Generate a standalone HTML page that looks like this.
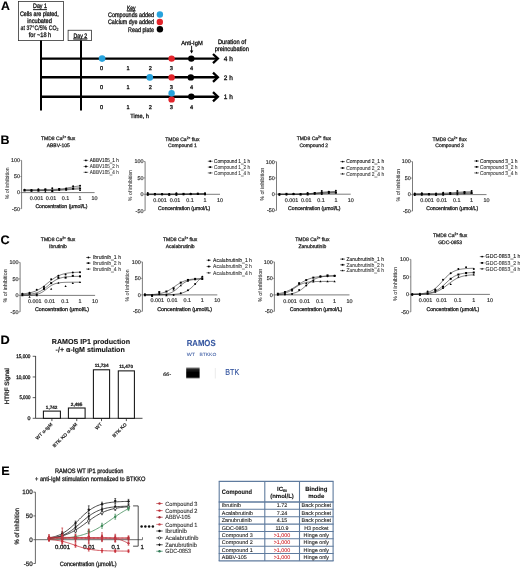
<!DOCTYPE html>
<html><head><meta charset="utf-8"><style>
html,body{margin:0;padding:0;background:#fff;}
svg{display:block;font-family:'Liberation Sans', Arial, sans-serif;text-rendering:geometricPrecision;}
</style></head><body>
<svg width="520" height="568" viewBox="0 0 520 568">
<rect width="520" height="568" fill="#fff"/>
<text x="0.9" y="9.7" font-size="12.3" font-weight="bold" textLength="8.9" lengthAdjust="spacingAndGlyphs" stroke="#000" stroke-width="0.15">A</text>
<rect x="18.5" y="1.5" width="45" height="39.1" fill="none" stroke="#333" stroke-width="0.8"/>
<text x="33.10" y="8.33" font-size="6.5" stroke="#1a1a1a" stroke-width="0.3" textLength="13.80" lengthAdjust="spacingAndGlyphs" text-decoration="underline">Day 1</text>
<text x="20.00" y="15.58" font-size="6.5" stroke="#1a1a1a" stroke-width="0.3" textLength="38.75" lengthAdjust="spacingAndGlyphs" >Cells are plated,</text>
<text x="27.25" y="22.68" font-size="6.5" stroke="#1a1a1a" stroke-width="0.3" textLength="24.65" lengthAdjust="spacingAndGlyphs" >incubated</text>
<text x="20.6" y="30.08" font-size="6.5" stroke="#1a1a1a" stroke-width="0.22" textLength="38" lengthAdjust="spacingAndGlyphs">at 37°C/5% CO<tspan font-size="4.4" dy="1.2">2</tspan></text>
<text x="28.75" y="37.08" font-size="6.5" stroke="#1a1a1a" stroke-width="0.3" textLength="22.50" lengthAdjust="spacingAndGlyphs" >for ~18 h</text>
<rect x="68.1" y="30.25" width="23.4" height="10.35" fill="none" stroke="#333" stroke-width="0.8"/>
<text x="73.50" y="37.68" font-size="6.5" stroke="#1a1a1a" stroke-width="0.3" textLength="13.75" lengthAdjust="spacingAndGlyphs" text-decoration="underline">Day 2</text>
<text x="126.90" y="9.62" font-size="6.3" stroke="#1a1a1a" stroke-width="0.3" textLength="8.70" lengthAdjust="spacingAndGlyphs" text-decoration="underline">Key</text>
<text x="108.10" y="16.91" font-size="6.6" stroke="#1a1a1a" stroke-width="0.3" textLength="45.90" lengthAdjust="spacingAndGlyphs" >Compounds added</text>
<text x="107.90" y="24.41" font-size="6.6" stroke="#1a1a1a" stroke-width="0.3" textLength="46.10" lengthAdjust="spacingAndGlyphs" >Calcium dye added</text>
<text x="128.10" y="31.61" font-size="6.6" stroke="#1a1a1a" stroke-width="0.3" textLength="25.90" lengthAdjust="spacingAndGlyphs" >Read plate</text>
<circle cx="159.90" cy="14.50" r="3.2" fill="#27a3dd"/>
<circle cx="159.80" cy="22.00" r="3.2" fill="#e3242b"/>
<circle cx="159.90" cy="29.20" r="3.2" fill="#000"/>
<line x1="41.00" y1="40.60" x2="41.00" y2="110.60" stroke="#000" stroke-width="2" />
<line x1="81.00" y1="40.60" x2="81.00" y2="110.60" stroke="#000" stroke-width="2" />
<line x1="41.00" y1="58.60" x2="217.00" y2="58.60" stroke="#000" stroke-width="2.4" />
<polyline points="213.0,54.00 217.9,58.60 213.0,63.20" fill="none" stroke="#000" stroke-width="2.3"/>
<line x1="41.00" y1="77.20" x2="217.00" y2="77.20" stroke="#000" stroke-width="2.4" />
<polyline points="213.0,72.60 217.9,77.20 213.0,81.80" fill="none" stroke="#000" stroke-width="2.3"/>
<line x1="41.00" y1="96.70" x2="217.00" y2="96.70" stroke="#000" stroke-width="2.4" />
<polyline points="213.0,92.10 217.9,96.70 213.0,101.30" fill="none" stroke="#000" stroke-width="2.3"/>
<circle cx="102.10" cy="58.60" r="3.3" fill="#27a3dd"/>
<circle cx="171.60" cy="58.60" r="3.2" fill="#e3242b"/>
<circle cx="191.30" cy="58.60" r="3.2" fill="#000"/>
<circle cx="149.80" cy="77.40" r="3.3" fill="#27a3dd"/>
<circle cx="171.60" cy="77.40" r="3.2" fill="#e3242b"/>
<circle cx="190.80" cy="77.40" r="3.2" fill="#000"/>
<circle cx="171.60" cy="99.40" r="3.2" fill="#e3242b"/>
<circle cx="171.60" cy="93.30" r="3.2" fill="#27a3dd"/>
<circle cx="191.30" cy="96.60" r="3.2" fill="#000"/>
<text x="101.50" y="70.06" font-size="5.6" stroke="#1a1a1a" stroke-width="0.3" text-anchor="middle" >0</text>
<text x="128.10" y="70.06" font-size="5.6" stroke="#1a1a1a" stroke-width="0.3" text-anchor="middle" >1</text>
<text x="150.30" y="70.06" font-size="5.6" stroke="#1a1a1a" stroke-width="0.3" text-anchor="middle" >2</text>
<text x="171.20" y="70.06" font-size="5.6" stroke="#1a1a1a" stroke-width="0.3" text-anchor="middle" >3</text>
<text x="191.50" y="70.06" font-size="5.6" stroke="#1a1a1a" stroke-width="0.3" text-anchor="middle" >4</text>
<text x="101.50" y="89.06" font-size="5.6" stroke="#1a1a1a" stroke-width="0.3" text-anchor="middle" >0</text>
<text x="128.10" y="89.06" font-size="5.6" stroke="#1a1a1a" stroke-width="0.3" text-anchor="middle" >1</text>
<text x="150.30" y="89.06" font-size="5.6" stroke="#1a1a1a" stroke-width="0.3" text-anchor="middle" >2</text>
<text x="171.20" y="89.06" font-size="5.6" stroke="#1a1a1a" stroke-width="0.3" text-anchor="middle" >3</text>
<text x="191.50" y="89.06" font-size="5.6" stroke="#1a1a1a" stroke-width="0.3" text-anchor="middle" >4</text>
<text x="101.50" y="108.96" font-size="5.6" stroke="#1a1a1a" stroke-width="0.3" text-anchor="middle" >0</text>
<text x="128.10" y="108.96" font-size="5.6" stroke="#1a1a1a" stroke-width="0.3" text-anchor="middle" >1</text>
<text x="150.30" y="108.96" font-size="5.6" stroke="#1a1a1a" stroke-width="0.3" text-anchor="middle" >2</text>
<text x="171.20" y="108.96" font-size="5.6" stroke="#1a1a1a" stroke-width="0.3" text-anchor="middle" >3</text>
<text x="191.50" y="108.96" font-size="5.6" stroke="#1a1a1a" stroke-width="0.3" text-anchor="middle" >4</text>
<text x="130.25" y="117.70" font-size="6" stroke="#1a1a1a" stroke-width="0.3" textLength="18.50" lengthAdjust="spacingAndGlyphs" >Time, h</text>
<text x="181.25" y="44.60" font-size="6" stroke="#1a1a1a" stroke-width="0.3" textLength="21.50" lengthAdjust="spacingAndGlyphs" >Anti-IgM</text>
<line x1="191.60" y1="45.80" x2="191.60" y2="51.50" stroke="#000" stroke-width="0.9" />
<polygon points="189.9,50.5 193.3,50.5 191.6,53.6" fill="#000"/>
<text x="217.90" y="44.18" font-size="6.5" stroke="#1a1a1a" stroke-width="0.3" textLength="28.10" lengthAdjust="spacingAndGlyphs" >Duration of</text>
<text x="214.70" y="51.18" font-size="6.5" stroke="#1a1a1a" stroke-width="0.3" textLength="34.20" lengthAdjust="spacingAndGlyphs" >preincubation</text>
<text x="223.80" y="60.68" font-size="6.5" stroke="#1a1a1a" stroke-width="0.3" >4 h</text>
<text x="223.80" y="79.58" font-size="6.5" stroke="#1a1a1a" stroke-width="0.3" >2 h</text>
<text x="223.80" y="98.78" font-size="6.5" stroke="#1a1a1a" stroke-width="0.3" >1 h</text>
<text x="0.6" y="143.6" font-size="12.3" font-weight="bold" textLength="9.0" lengthAdjust="spacingAndGlyphs" stroke="#000" stroke-width="0.15">B</text>
<text x="0.5" y="244.2" font-size="12.3" font-weight="bold" textLength="9.2" lengthAdjust="spacingAndGlyphs" stroke="#000" stroke-width="0.15">C</text>
<line x1="21.60" y1="160.40" x2="21.60" y2="208.70" stroke="#5a5a5a" stroke-width="0.8" />
<line x1="20.30" y1="160.40" x2="21.60" y2="160.40" stroke="#5a5a5a" stroke-width="0.6" />
<line x1="20.30" y1="176.50" x2="21.60" y2="176.50" stroke="#5a5a5a" stroke-width="0.6" />
<line x1="20.30" y1="192.60" x2="21.60" y2="192.60" stroke="#5a5a5a" stroke-width="0.6" />
<line x1="20.30" y1="208.70" x2="21.60" y2="208.70" stroke="#5a5a5a" stroke-width="0.6" />
<line x1="21.60" y1="192.60" x2="94.60" y2="192.60" stroke="#5a5a5a" stroke-width="0.8" />
<text x="19.90" y="162.29" font-size="5.4" stroke="#333" stroke-width="0.2" text-anchor="end" fill="#333" >100</text>
<text x="19.90" y="178.39" font-size="5.4" stroke="#333" stroke-width="0.2" text-anchor="end" fill="#333" >50</text>
<text x="19.90" y="194.49" font-size="5.4" stroke="#333" stroke-width="0.2" text-anchor="end" fill="#333" >0</text>
<text x="19.90" y="210.59" font-size="5.4" stroke="#333" stroke-width="0.2" text-anchor="end" fill="#333" >-50</text>
<text x="36.40" y="200.19" font-size="5.4" stroke="#333" stroke-width="0.2" text-anchor="middle" fill="#333" >0.001</text>
<text x="50.95" y="200.19" font-size="5.4" stroke="#333" stroke-width="0.2" text-anchor="middle" fill="#333" >0.01</text>
<text x="65.50" y="200.19" font-size="5.4" stroke="#333" stroke-width="0.2" text-anchor="middle" fill="#333" >0.1</text>
<text x="80.05" y="200.19" font-size="5.4" stroke="#333" stroke-width="0.2" text-anchor="middle" fill="#333" >1</text>
<text x="94.60" y="200.19" font-size="5.4" stroke="#333" stroke-width="0.2" text-anchor="middle" fill="#333" >10</text>
<text x="58.20" y="140.45" font-size="5" text-anchor="middle" fill="#222" stroke="#222" stroke-width="0.25">TMD8 Ca<tspan font-size="3.3" dy="-2.5">2+</tspan><tspan dy="2.5"> flux</tspan></text>
<text x="58.20" y="146.90" font-size="5" stroke="#222" stroke-width="0.25" text-anchor="middle" fill="#222" >ABBV-105</text>
<text x="35.40" y="208.09" font-size="5.4" stroke="#222" stroke-width="0.3" fill="#222" textLength="52.10" lengthAdjust="spacingAndGlyphs" >Concentration (µmol/L)</text>
<text transform="translate(6.90,183.30) rotate(-90)" x="0" y="1.82" font-size="5.4" text-anchor="middle" fill="#444" stroke="#444" stroke-width="0.1" textLength="32.00" lengthAdjust="spacingAndGlyphs">% of inhibition</text>
<line x1="83.60" y1="160.40" x2="88.20" y2="160.40" stroke="#222" stroke-width="0.6" />
<circle cx="85.90" cy="160.40" r="0.9" fill="#000"/>
<text x="89.75" y="162.25" font-size="5.6" stroke="#222" stroke-width="0.12" fill="#222" textLength="29.00" lengthAdjust="spacingAndGlyphs" >ABBV105_1 h</text>
<line x1="83.60" y1="166.50" x2="88.20" y2="166.50" stroke="#222" stroke-width="0.6" />
<rect x="85.00" y="165.60" width="1.80" height="1.80" fill="#000"/>
<text x="89.75" y="168.35" font-size="5.6" stroke="#444" stroke-width="0.12" fill="#444" textLength="29.00" lengthAdjust="spacingAndGlyphs" >ABBV105_2 h</text>
<line x1="83.60" y1="172.30" x2="88.20" y2="172.30" stroke="#222" stroke-width="0.6" />
<polygon points="85.90,171.22 86.89,173.02 84.91,173.02" fill="#000"/>
<text x="89.75" y="174.15" font-size="5.6" stroke="#444" stroke-width="0.12" fill="#444" textLength="29.00" lengthAdjust="spacingAndGlyphs" >ABBV105_4 h</text>
<polyline points="24.51,189.70 25.44,189.70 26.36,189.70 27.29,189.70 28.22,189.70 29.14,189.70 30.07,189.69 30.99,189.69 31.92,189.69 32.84,189.69 33.77,189.69 34.69,189.69 35.62,189.69 36.55,189.68 37.47,189.68 38.40,189.68 39.32,189.67 40.25,189.67 41.17,189.66 42.10,189.66 43.03,189.65 43.95,189.64 44.88,189.63 45.80,189.62 46.73,189.61 47.65,189.59 48.58,189.57 49.50,189.55 50.43,189.53 51.36,189.51 52.28,189.48 53.21,189.44 54.13,189.40 55.06,189.36 55.98,189.31 56.91,189.25 57.84,189.19 58.76,189.12 59.69,189.04 60.61,188.95 61.54,188.85 62.46,188.75 63.39,188.63 64.31,188.50 65.24,188.37 66.17,188.22 67.09,188.07 68.02,187.90 68.94,187.74 69.87,187.56 70.79,187.39 71.72,187.21 72.65,187.03 73.57,186.86 74.50,186.69 75.42,186.53 76.35,186.37 77.27,186.23 78.20,186.09 79.12,185.96 80.05,185.84" fill="none" stroke="#222" stroke-width="0.6"/>
<circle cx="80.05" cy="185.84" r="1.0" fill="#000"/>
<circle cx="73.11" cy="186.30" r="1.0" fill="#000"/>
<circle cx="66.17" cy="188.54" r="1.0" fill="#000"/>
<circle cx="59.22" cy="189.08" r="1.0" fill="#000"/>
<circle cx="52.28" cy="188.19" r="1.0" fill="#000"/>
<circle cx="45.34" cy="189.95" r="1.0" fill="#000"/>
<circle cx="38.40" cy="189.35" r="1.0" fill="#000"/>
<circle cx="31.46" cy="190.34" r="1.0" fill="#000"/>
<circle cx="24.51" cy="189.70" r="1.0" fill="#000"/>
<polyline points="24.51,190.34 25.44,190.34 26.36,190.34 27.29,190.34 28.22,190.34 29.14,190.34 30.07,190.34 30.99,190.34 31.92,190.34 32.84,190.34 33.77,190.33 34.69,190.33 35.62,190.33 36.55,190.33 37.47,190.32 38.40,190.32 39.32,190.32 40.25,190.31 41.17,190.31 42.10,190.30 43.03,190.29 43.95,190.29 44.88,190.28 45.80,190.27 46.73,190.26 47.65,190.24 48.58,190.23 49.50,190.21 50.43,190.19 51.36,190.16 52.28,190.14 53.21,190.11 54.13,190.07 55.06,190.03 55.98,189.99 56.91,189.94 57.84,189.89 58.76,189.83 59.69,189.76 60.61,189.69 61.54,189.62 62.46,189.53 63.39,189.44 64.31,189.35 65.24,189.25 66.17,189.15 67.09,189.05 68.02,188.94 68.94,188.84 69.87,188.73 70.79,188.63 71.72,188.53 72.65,188.43 73.57,188.34 74.50,188.25 75.42,188.17 76.35,188.09 77.27,188.02 78.20,187.96 79.12,187.90 80.05,187.84" fill="none" stroke="#222" stroke-width="0.6"/>
<rect x="79.05" y="187.49" width="2.00" height="2.00" fill="#000"/>
<rect x="72.11" y="187.70" width="2.00" height="2.00" fill="#000"/>
<rect x="65.17" y="188.15" width="2.00" height="2.00" fill="#000"/>
<rect x="58.22" y="188.15" width="2.00" height="2.00" fill="#000"/>
<rect x="51.28" y="190.10" width="2.00" height="2.00" fill="#000"/>
<rect x="44.34" y="188.31" width="2.00" height="2.00" fill="#000"/>
<rect x="37.40" y="189.32" width="2.00" height="2.00" fill="#000"/>
<rect x="30.46" y="189.34" width="2.00" height="2.00" fill="#000"/>
<rect x="23.51" y="189.34" width="2.00" height="2.00" fill="#000"/>
<polyline points="24.51,190.67 25.44,190.67 26.36,190.67 27.29,190.67 28.22,190.66 29.14,190.66 30.07,190.66 30.99,190.66 31.92,190.66 32.84,190.66 33.77,190.66 34.69,190.66 35.62,190.66 36.55,190.66 37.47,190.65 38.40,190.65 39.32,190.65 40.25,190.65 41.17,190.64 42.10,190.64 43.03,190.63 43.95,190.63 44.88,190.62 45.80,190.62 46.73,190.61 47.65,190.60 48.58,190.59 49.50,190.58 50.43,190.56 51.36,190.55 52.28,190.53 53.21,190.51 54.13,190.49 55.06,190.46 55.98,190.43 56.91,190.40 57.84,190.36 58.76,190.32 59.69,190.28 60.61,190.23 61.54,190.18 62.46,190.13 63.39,190.07 64.31,190.00 65.24,189.94 66.17,189.87 67.09,189.80 68.02,189.73 68.94,189.66 69.87,189.59 70.79,189.52 71.72,189.45 72.65,189.39 73.57,189.33 74.50,189.27 75.42,189.22 76.35,189.16 77.27,189.12 78.20,189.07 79.12,189.04 80.05,189.00" fill="none" stroke="#222" stroke-width="0.6"/>
<polygon points="80.05,189.09 81.15,191.09 78.95,191.09" fill="#000"/>
<polygon points="73.11,187.19 74.21,189.19 72.01,189.19" fill="#000"/>
<polygon points="66.17,188.67 67.27,190.67 65.07,190.67" fill="#000"/>
<polygon points="59.22,189.10 60.32,191.10 58.12,191.10" fill="#000"/>
<polygon points="52.28,189.33 53.38,191.33 51.18,191.33" fill="#000"/>
<polygon points="45.34,190.39 46.44,192.39 44.24,192.39" fill="#000"/>
<polygon points="38.40,189.45 39.50,191.45 37.30,191.45" fill="#000"/>
<polygon points="31.46,189.78 32.56,191.78 30.36,191.78" fill="#000"/>
<polygon points="24.51,189.14 25.61,191.14 23.41,191.14" fill="#000"/>
<line x1="145.10" y1="161.50" x2="145.10" y2="210.70" stroke="#5a5a5a" stroke-width="0.8" />
<line x1="143.80" y1="161.50" x2="145.10" y2="161.50" stroke="#5a5a5a" stroke-width="0.6" />
<line x1="143.80" y1="177.90" x2="145.10" y2="177.90" stroke="#5a5a5a" stroke-width="0.6" />
<line x1="143.80" y1="194.30" x2="145.10" y2="194.30" stroke="#5a5a5a" stroke-width="0.6" />
<line x1="143.80" y1="210.70" x2="145.10" y2="210.70" stroke="#5a5a5a" stroke-width="0.6" />
<line x1="145.10" y1="194.30" x2="220.00" y2="194.30" stroke="#5a5a5a" stroke-width="0.8" />
<text x="143.40" y="163.39" font-size="5.4" stroke="#333" stroke-width="0.2" text-anchor="end" fill="#333" >100</text>
<text x="143.40" y="179.79" font-size="5.4" stroke="#333" stroke-width="0.2" text-anchor="end" fill="#333" >50</text>
<text x="143.40" y="196.19" font-size="5.4" stroke="#333" stroke-width="0.2" text-anchor="end" fill="#333" >0</text>
<text x="143.40" y="212.59" font-size="5.4" stroke="#333" stroke-width="0.2" text-anchor="end" fill="#333" >-50</text>
<text x="160.00" y="201.89" font-size="5.4" stroke="#333" stroke-width="0.2" text-anchor="middle" fill="#333" >0.001</text>
<text x="175.00" y="201.89" font-size="5.4" stroke="#333" stroke-width="0.2" text-anchor="middle" fill="#333" >0.01</text>
<text x="190.00" y="201.89" font-size="5.4" stroke="#333" stroke-width="0.2" text-anchor="middle" fill="#333" >0.1</text>
<text x="205.00" y="201.89" font-size="5.4" stroke="#333" stroke-width="0.2" text-anchor="middle" fill="#333" >1</text>
<text x="220.00" y="201.89" font-size="5.4" stroke="#333" stroke-width="0.2" text-anchor="middle" fill="#333" >10</text>
<text x="182.40" y="141.05" font-size="5" text-anchor="middle" fill="#222" stroke="#222" stroke-width="0.25">TMD8 Ca<tspan font-size="3.3" dy="-2.5">2+</tspan><tspan dy="2.5"> flux</tspan></text>
<text x="182.40" y="147.15" font-size="5" stroke="#222" stroke-width="0.25" text-anchor="middle" fill="#222" >Compound 1</text>
<text x="158.10" y="209.99" font-size="5.4" stroke="#222" stroke-width="0.3" fill="#222" textLength="52.15" lengthAdjust="spacingAndGlyphs" >Concentration (µmol/L)</text>
<text transform="translate(130.60,185.40) rotate(-90)" x="0" y="1.82" font-size="5.4" text-anchor="middle" fill="#444" stroke="#444" stroke-width="0.1" textLength="31.00" lengthAdjust="spacingAndGlyphs">% of inhibition</text>
<line x1="207.80" y1="161.25" x2="212.60" y2="161.25" stroke="#222" stroke-width="0.6" />
<circle cx="210.20" cy="161.25" r="0.9" fill="#000"/>
<text x="214.10" y="163.10" font-size="5.6" stroke="#222" stroke-width="0.12" fill="#222" textLength="35.90" lengthAdjust="spacingAndGlyphs" >Compound 1_1 h</text>
<line x1="207.80" y1="167.10" x2="212.60" y2="167.10" stroke="#222" stroke-width="0.6" />
<rect x="209.30" y="166.20" width="1.80" height="1.80" fill="#000"/>
<text x="214.10" y="168.95" font-size="5.6" stroke="#444" stroke-width="0.12" fill="#444" textLength="35.90" lengthAdjust="spacingAndGlyphs" >Compound 1_2 h</text>
<line x1="207.80" y1="172.90" x2="212.60" y2="172.90" stroke="#222" stroke-width="0.6" />
<polygon points="210.20,171.82 211.19,173.62 209.21,173.62" fill="#000"/>
<text x="214.10" y="174.75" font-size="5.6" stroke="#444" stroke-width="0.12" fill="#444" textLength="35.90" lengthAdjust="spacingAndGlyphs" >Compound 1_4 h</text>
<polyline points="147.75,193.97 148.70,193.97 149.65,193.97 150.61,193.97 151.56,193.97 152.52,193.97 153.47,193.97 154.43,193.97 155.38,193.97 156.33,193.97 157.29,193.97 158.24,193.97 159.20,193.97 160.15,193.97 161.10,193.97 162.06,193.97 163.01,193.97 163.97,193.97 164.92,193.97 165.88,193.96 166.83,193.96 167.78,193.96 168.74,193.96 169.69,193.96 170.65,193.96 171.60,193.95 172.56,193.95 173.51,193.95 174.46,193.94 175.42,193.94 176.37,193.94 177.33,193.93 178.28,193.93 179.24,193.92 180.19,193.91 181.14,193.90 182.10,193.90 183.05,193.89 184.01,193.88 184.96,193.87 185.92,193.86 186.87,193.85 187.82,193.84 188.78,193.82 189.73,193.81 190.69,193.80 191.64,193.79 192.59,193.78 193.55,193.76 194.50,193.75 195.46,193.74 196.41,193.73 197.37,193.72 198.32,193.72 199.27,193.71 200.23,193.70 201.18,193.69 202.14,193.69 203.09,193.68 204.05,193.68 205.00,193.67" fill="none" stroke="#222" stroke-width="0.6"/>
<circle cx="205.00" cy="193.35" r="1.0" fill="#000"/>
<circle cx="197.84" cy="193.72" r="1.0" fill="#000"/>
<circle cx="190.69" cy="193.80" r="1.0" fill="#000"/>
<circle cx="183.53" cy="194.21" r="1.0" fill="#000"/>
<circle cx="176.37" cy="193.28" r="1.0" fill="#000"/>
<circle cx="169.22" cy="193.96" r="1.0" fill="#000"/>
<circle cx="162.06" cy="194.30" r="1.0" fill="#000"/>
<circle cx="154.90" cy="193.97" r="1.0" fill="#000"/>
<circle cx="147.75" cy="192.99" r="1.0" fill="#000"/>
<polyline points="147.75,194.30 148.70,194.30 149.65,194.30 150.61,194.30 151.56,194.30 152.52,194.30 153.47,194.30 154.43,194.30 155.38,194.30 156.33,194.30 157.29,194.30 158.24,194.30 159.20,194.30 160.15,194.30 161.10,194.30 162.06,194.30 163.01,194.29 163.97,194.29 164.92,194.29 165.88,194.29 166.83,194.29 167.78,194.29 168.74,194.29 169.69,194.29 170.65,194.28 171.60,194.28 172.56,194.28 173.51,194.28 174.46,194.27 175.42,194.27 176.37,194.26 177.33,194.26 178.28,194.25 179.24,194.25 180.19,194.24 181.14,194.23 182.10,194.22 183.05,194.22 184.01,194.21 184.96,194.20 185.92,194.19 186.87,194.17 187.82,194.16 188.78,194.15 189.73,194.14 190.69,194.13 191.64,194.12 192.59,194.10 193.55,194.09 194.50,194.08 195.46,194.07 196.41,194.06 197.37,194.05 198.32,194.04 199.27,194.04 200.23,194.03 201.18,194.02 202.14,194.02 203.09,194.01 204.05,194.01 205.00,194.00" fill="none" stroke="#222" stroke-width="0.6"/>
<rect x="204.00" y="193.33" width="2.00" height="2.00" fill="#000"/>
<rect x="196.84" y="192.72" width="2.00" height="2.00" fill="#000"/>
<rect x="189.69" y="193.13" width="2.00" height="2.00" fill="#000"/>
<rect x="182.53" y="192.88" width="2.00" height="2.00" fill="#000"/>
<rect x="175.37" y="193.26" width="2.00" height="2.00" fill="#000"/>
<rect x="168.22" y="193.62" width="2.00" height="2.00" fill="#000"/>
<rect x="161.06" y="193.30" width="2.00" height="2.00" fill="#000"/>
<rect x="153.90" y="192.97" width="2.00" height="2.00" fill="#000"/>
<rect x="146.75" y="193.30" width="2.00" height="2.00" fill="#000"/>
<polyline points="147.75,194.63 148.70,194.63 149.65,194.63 150.61,194.63 151.56,194.63 152.52,194.63 153.47,194.63 154.43,194.63 155.38,194.62 156.33,194.62 157.29,194.62 158.24,194.62 159.20,194.62 160.15,194.62 161.10,194.62 162.06,194.62 163.01,194.62 163.97,194.62 164.92,194.61 165.88,194.61 166.83,194.61 167.78,194.61 168.74,194.60 169.69,194.60 170.65,194.60 171.60,194.59 172.56,194.59 173.51,194.58 174.46,194.57 175.42,194.56 176.37,194.56 177.33,194.55 178.28,194.53 179.24,194.52 180.19,194.51 181.14,194.49 182.10,194.48 183.05,194.46 184.01,194.44 184.96,194.42 185.92,194.40 186.87,194.38 187.82,194.35 188.78,194.33 189.73,194.31 190.69,194.28 191.64,194.26 192.59,194.24 193.55,194.21 194.50,194.19 195.46,194.17 196.41,194.15 197.37,194.13 198.32,194.12 199.27,194.10 200.23,194.08 201.18,194.07 202.14,194.06 203.09,194.05 204.05,194.04 205.00,194.03" fill="none" stroke="#222" stroke-width="0.6"/>
<polygon points="205.00,192.18 206.10,194.18 203.90,194.18" fill="#000"/>
<polygon points="197.84,192.92 198.94,194.92 196.74,194.92" fill="#000"/>
<polygon points="190.69,192.75 191.79,194.75 189.59,194.75" fill="#000"/>
<polygon points="183.53,193.25 184.63,195.25 182.43,195.25" fill="#000"/>
<polygon points="176.37,193.68 177.47,195.68 175.27,195.68" fill="#000"/>
<polygon points="169.22,193.40 170.32,195.40 168.12,195.40" fill="#000"/>
<polygon points="162.06,193.09 163.16,195.09 160.96,195.09" fill="#000"/>
<polygon points="154.90,193.43 156.00,195.43 153.80,195.43" fill="#000"/>
<polygon points="147.75,193.76 148.85,195.76 146.65,195.76" fill="#000"/>
<line x1="276.50" y1="161.70" x2="276.50" y2="210.45" stroke="#5a5a5a" stroke-width="0.8" />
<line x1="275.20" y1="161.70" x2="276.50" y2="161.70" stroke="#5a5a5a" stroke-width="0.6" />
<line x1="275.20" y1="177.95" x2="276.50" y2="177.95" stroke="#5a5a5a" stroke-width="0.6" />
<line x1="275.20" y1="194.20" x2="276.50" y2="194.20" stroke="#5a5a5a" stroke-width="0.6" />
<line x1="275.20" y1="210.45" x2="276.50" y2="210.45" stroke="#5a5a5a" stroke-width="0.6" />
<line x1="276.50" y1="194.20" x2="350.70" y2="194.20" stroke="#5a5a5a" stroke-width="0.8" />
<text x="274.80" y="163.59" font-size="5.4" stroke="#333" stroke-width="0.2" text-anchor="end" fill="#333" >100</text>
<text x="274.80" y="179.84" font-size="5.4" stroke="#333" stroke-width="0.2" text-anchor="end" fill="#333" >50</text>
<text x="274.80" y="196.09" font-size="5.4" stroke="#333" stroke-width="0.2" text-anchor="end" fill="#333" >0</text>
<text x="274.80" y="212.34" font-size="5.4" stroke="#333" stroke-width="0.2" text-anchor="end" fill="#333" >-50</text>
<text x="291.50" y="201.89" font-size="5.4" stroke="#333" stroke-width="0.2" text-anchor="middle" fill="#333" >0.001</text>
<text x="306.30" y="201.89" font-size="5.4" stroke="#333" stroke-width="0.2" text-anchor="middle" fill="#333" >0.01</text>
<text x="321.10" y="201.89" font-size="5.4" stroke="#333" stroke-width="0.2" text-anchor="middle" fill="#333" >0.1</text>
<text x="335.90" y="201.89" font-size="5.4" stroke="#333" stroke-width="0.2" text-anchor="middle" fill="#333" >1</text>
<text x="350.70" y="201.89" font-size="5.4" stroke="#333" stroke-width="0.2" text-anchor="middle" fill="#333" >10</text>
<text x="313.80" y="140.39" font-size="5" text-anchor="middle" fill="#222" stroke="#222" stroke-width="0.25">TMD8 Ca<tspan font-size="3.3" dy="-2.5">2+</tspan><tspan dy="2.5"> flux</tspan></text>
<text x="313.80" y="146.70" font-size="5" stroke="#222" stroke-width="0.25" text-anchor="middle" fill="#222" >Compound 2</text>
<text x="288.10" y="209.99" font-size="5.4" stroke="#222" stroke-width="0.3" fill="#222" textLength="52.50" lengthAdjust="spacingAndGlyphs" >Concentration (µmol/L)</text>
<text transform="translate(262.00,184.30) rotate(-90)" x="0" y="1.82" font-size="5.4" text-anchor="middle" fill="#444" stroke="#444" stroke-width="0.1" textLength="33.00" lengthAdjust="spacingAndGlyphs">% of inhibition</text>
<line x1="340.30" y1="161.60" x2="344.90" y2="161.60" stroke="#222" stroke-width="0.6" />
<circle cx="342.60" cy="161.60" r="0.9" fill="#000"/>
<text x="346.20" y="163.45" font-size="5.6" stroke="#222" stroke-width="0.12" fill="#222" textLength="38.00" lengthAdjust="spacingAndGlyphs" >Compound 2_1 h</text>
<line x1="340.30" y1="168.00" x2="344.90" y2="168.00" stroke="#222" stroke-width="0.6" />
<rect x="341.70" y="167.10" width="1.80" height="1.80" fill="#000"/>
<text x="346.20" y="169.85" font-size="5.6" stroke="#444" stroke-width="0.12" fill="#444" textLength="38.00" lengthAdjust="spacingAndGlyphs" >Compound 2_2 h</text>
<line x1="340.30" y1="173.90" x2="344.90" y2="173.90" stroke="#222" stroke-width="0.6" />
<polygon points="342.60,172.82 343.59,174.62 341.61,174.62" fill="#000"/>
<text x="346.20" y="175.75" font-size="5.6" stroke="#444" stroke-width="0.12" fill="#444" textLength="38.00" lengthAdjust="spacingAndGlyphs" >Compound 2_4 h</text>
<polyline points="279.41,194.19 280.35,194.19 281.29,194.19 282.23,194.19 283.17,194.19 284.12,194.19 285.06,194.18 286.00,194.18 286.94,194.18 287.88,194.17 288.82,194.17 289.77,194.17 290.71,194.16 291.65,194.15 292.59,194.15 293.53,194.14 294.47,194.13 295.41,194.12 296.36,194.10 297.30,194.09 298.24,194.07 299.18,194.05 300.12,194.03 301.06,194.01 302.01,193.98 302.95,193.95 303.89,193.91 304.83,193.87 305.77,193.83 306.71,193.78 307.65,193.72 308.60,193.66 309.54,193.59 310.48,193.52 311.42,193.44 312.36,193.35 313.30,193.26 314.25,193.17 315.19,193.07 316.13,192.96 317.07,192.86 318.01,192.75 318.95,192.65 319.89,192.54 320.84,192.44 321.78,192.33 322.72,192.24 323.66,192.15 324.60,192.06 325.54,191.98 326.48,191.90 327.43,191.83 328.37,191.77 329.31,191.71 330.25,191.66 331.19,191.61 332.13,191.57 333.08,191.54 334.02,191.50 334.96,191.47 335.90,191.45" fill="none" stroke="#222" stroke-width="0.6"/>
<circle cx="335.90" cy="190.80" r="1.0" fill="#000"/>
<circle cx="328.84" cy="191.74" r="1.0" fill="#000"/>
<circle cx="321.78" cy="191.03" r="1.0" fill="#000"/>
<circle cx="314.72" cy="193.12" r="1.0" fill="#000"/>
<circle cx="307.65" cy="193.07" r="1.0" fill="#000"/>
<circle cx="300.59" cy="194.02" r="1.0" fill="#000"/>
<circle cx="293.53" cy="193.81" r="1.0" fill="#000"/>
<circle cx="286.47" cy="194.50" r="1.0" fill="#000"/>
<circle cx="279.41" cy="194.19" r="1.0" fill="#000"/>
<polyline points="279.41,194.20 280.35,194.19 281.29,194.19 282.23,194.19 283.17,194.19 284.12,194.19 285.06,194.19 286.00,194.19 286.94,194.18 287.88,194.18 288.82,194.18 289.77,194.18 290.71,194.17 291.65,194.17 292.59,194.16 293.53,194.16 294.47,194.15 295.41,194.14 296.36,194.14 297.30,194.13 298.24,194.12 299.18,194.10 300.12,194.09 301.06,194.07 302.01,194.05 302.95,194.03 303.89,194.01 304.83,193.98 305.77,193.95 306.71,193.92 307.65,193.88 308.60,193.84 309.54,193.79 310.48,193.75 311.42,193.69 312.36,193.64 313.30,193.58 314.25,193.51 315.19,193.45 316.13,193.38 317.07,193.31 318.01,193.23 318.95,193.16 319.89,193.09 320.84,193.02 321.78,192.96 322.72,192.89 323.66,192.83 324.60,192.77 325.54,192.72 326.48,192.67 327.43,192.62 328.37,192.58 329.31,192.54 330.25,192.51 331.19,192.48 332.13,192.45 333.08,192.42 334.02,192.40 334.96,192.38 335.90,192.37" fill="none" stroke="#222" stroke-width="0.6"/>
<rect x="334.90" y="191.69" width="2.00" height="2.00" fill="#000"/>
<rect x="327.84" y="191.24" width="2.00" height="2.00" fill="#000"/>
<rect x="320.78" y="191.96" width="2.00" height="2.00" fill="#000"/>
<rect x="313.72" y="192.15" width="2.00" height="2.00" fill="#000"/>
<rect x="306.65" y="192.88" width="2.00" height="2.00" fill="#000"/>
<rect x="299.59" y="193.41" width="2.00" height="2.00" fill="#000"/>
<rect x="292.53" y="193.16" width="2.00" height="2.00" fill="#000"/>
<rect x="285.47" y="192.86" width="2.00" height="2.00" fill="#000"/>
<rect x="278.41" y="193.20" width="2.00" height="2.00" fill="#000"/>
<polyline points="279.41,194.52 280.35,194.52 281.29,194.52 282.23,194.52 283.17,194.52 284.12,194.52 285.06,194.52 286.00,194.51 286.94,194.51 287.88,194.51 288.82,194.51 289.77,194.51 290.71,194.50 291.65,194.50 292.59,194.50 293.53,194.49 294.47,194.49 295.41,194.48 296.36,194.47 297.30,194.46 298.24,194.45 299.18,194.44 300.12,194.43 301.06,194.42 302.01,194.40 302.95,194.39 303.89,194.37 304.83,194.34 305.77,194.32 306.71,194.29 307.65,194.26 308.60,194.22 309.54,194.19 310.48,194.15 311.42,194.10 312.36,194.05 313.30,194.00 314.25,193.95 315.19,193.90 316.13,193.84 317.07,193.78 318.01,193.72 318.95,193.66 319.89,193.60 320.84,193.54 321.78,193.49 322.72,193.43 323.66,193.38 324.60,193.34 325.54,193.29 326.48,193.25 327.43,193.21 328.37,193.17 329.31,193.14 330.25,193.11 331.19,193.09 332.13,193.07 333.08,193.04 334.02,193.03 334.96,193.01 335.90,193.00" fill="none" stroke="#222" stroke-width="0.6"/>
<polygon points="335.90,191.15 337.00,193.15 334.80,193.15" fill="#000"/>
<polygon points="328.84,191.96 329.94,193.96 327.74,193.96" fill="#000"/>
<polygon points="321.78,192.94 322.88,194.94 320.68,194.94" fill="#000"/>
<polygon points="314.72,192.72 315.82,194.72 313.62,194.72" fill="#000"/>
<polygon points="307.65,193.38 308.75,195.38 306.55,195.38" fill="#000"/>
<polygon points="300.59,193.23 301.69,195.23 299.49,195.23" fill="#000"/>
<polygon points="293.53,192.97 294.63,194.97 292.43,194.97" fill="#000"/>
<polygon points="286.47,193.31 287.57,195.31 285.37,195.31" fill="#000"/>
<polygon points="279.41,193.65 280.51,195.65 278.31,195.65" fill="#000"/>
<line x1="412.50" y1="161.60" x2="412.50" y2="211.10" stroke="#5a5a5a" stroke-width="0.8" />
<line x1="411.20" y1="161.60" x2="412.50" y2="161.60" stroke="#5a5a5a" stroke-width="0.6" />
<line x1="411.20" y1="178.10" x2="412.50" y2="178.10" stroke="#5a5a5a" stroke-width="0.6" />
<line x1="411.20" y1="194.60" x2="412.50" y2="194.60" stroke="#5a5a5a" stroke-width="0.6" />
<line x1="411.20" y1="211.10" x2="412.50" y2="211.10" stroke="#5a5a5a" stroke-width="0.6" />
<line x1="412.50" y1="194.60" x2="486.50" y2="194.60" stroke="#5a5a5a" stroke-width="0.8" />
<text x="410.80" y="163.49" font-size="5.4" stroke="#333" stroke-width="0.2" text-anchor="end" fill="#333" >100</text>
<text x="410.80" y="179.99" font-size="5.4" stroke="#333" stroke-width="0.2" text-anchor="end" fill="#333" >50</text>
<text x="410.80" y="196.49" font-size="5.4" stroke="#333" stroke-width="0.2" text-anchor="end" fill="#333" >0</text>
<text x="410.80" y="212.99" font-size="5.4" stroke="#333" stroke-width="0.2" text-anchor="end" fill="#333" >-50</text>
<text x="426.90" y="202.49" font-size="5.4" stroke="#333" stroke-width="0.2" text-anchor="middle" fill="#333" >0.001</text>
<text x="441.80" y="202.49" font-size="5.4" stroke="#333" stroke-width="0.2" text-anchor="middle" fill="#333" >0.01</text>
<text x="456.70" y="202.49" font-size="5.4" stroke="#333" stroke-width="0.2" text-anchor="middle" fill="#333" >0.1</text>
<text x="471.60" y="202.49" font-size="5.4" stroke="#333" stroke-width="0.2" text-anchor="middle" fill="#333" >1</text>
<text x="486.50" y="202.49" font-size="5.4" stroke="#333" stroke-width="0.2" text-anchor="middle" fill="#333" >10</text>
<text x="449.60" y="141.05" font-size="5" text-anchor="middle" fill="#222" stroke="#222" stroke-width="0.25">TMD8 Ca<tspan font-size="3.3" dy="-2.5">2+</tspan><tspan dy="2.5"> flux</tspan></text>
<text x="449.60" y="147.15" font-size="5" stroke="#222" stroke-width="0.25" text-anchor="middle" fill="#222" >Compound 3</text>
<text x="426.25" y="209.99" font-size="5.4" stroke="#222" stroke-width="0.3" fill="#222" textLength="51.85" lengthAdjust="spacingAndGlyphs" >Concentration (µmol/L)</text>
<text transform="translate(398.00,185.10) rotate(-90)" x="0" y="1.82" font-size="5.4" text-anchor="middle" fill="#444" stroke="#444" stroke-width="0.1" textLength="32.80" lengthAdjust="spacingAndGlyphs">% of inhibition</text>
<line x1="474.20" y1="161.00" x2="479.00" y2="161.00" stroke="#222" stroke-width="0.6" />
<circle cx="476.60" cy="161.00" r="0.9" fill="#000"/>
<text x="480.00" y="162.85" font-size="5.6" stroke="#222" stroke-width="0.12" fill="#222" textLength="37.50" lengthAdjust="spacingAndGlyphs" >Compound 3_1 h</text>
<line x1="474.20" y1="166.90" x2="479.00" y2="166.90" stroke="#222" stroke-width="0.6" />
<rect x="475.70" y="166.00" width="1.80" height="1.80" fill="#000"/>
<text x="480.00" y="168.75" font-size="5.6" stroke="#444" stroke-width="0.12" fill="#444" textLength="37.50" lengthAdjust="spacingAndGlyphs" >Compound 3_2 h</text>
<line x1="474.20" y1="172.90" x2="479.00" y2="172.90" stroke="#222" stroke-width="0.6" />
<polygon points="476.60,171.82 477.59,173.62 475.61,173.62" fill="#000"/>
<text x="480.00" y="174.75" font-size="5.6" stroke="#444" stroke-width="0.12" fill="#444" textLength="37.50" lengthAdjust="spacingAndGlyphs" >Compound 3_4 h</text>
<polyline points="414.73,193.61 415.68,193.60 416.62,193.60 417.57,193.60 418.52,193.60 419.47,193.60 420.41,193.60 421.36,193.60 422.31,193.59 423.26,193.59 424.21,193.59 425.15,193.59 426.10,193.58 427.05,193.58 428.00,193.57 428.95,193.57 429.89,193.56 430.84,193.55 431.79,193.55 432.74,193.54 433.68,193.52 434.63,193.51 435.58,193.50 436.53,193.48 437.48,193.46 438.42,193.44 439.37,193.42 440.32,193.39 441.27,193.36 442.22,193.32 443.16,193.29 444.11,193.24 445.06,193.20 446.01,193.15 446.96,193.09 447.90,193.04 448.85,192.98 449.80,192.91 450.75,192.84 451.69,192.77 452.64,192.70 453.59,192.63 454.54,192.56 455.49,192.49 456.43,192.42 457.38,192.35 458.33,192.28 459.28,192.22 460.23,192.16 461.17,192.11 462.12,192.05 463.07,192.01 464.02,191.97 464.96,191.93 465.91,191.89 466.86,191.86 467.81,191.83 468.76,191.81 469.70,191.78 470.65,191.76 471.60,191.75" fill="none" stroke="#222" stroke-width="0.6"/>
<circle cx="471.60" cy="191.09" r="1.0" fill="#000"/>
<circle cx="464.49" cy="191.95" r="1.0" fill="#000"/>
<circle cx="457.38" cy="191.03" r="1.0" fill="#000"/>
<circle cx="450.27" cy="192.88" r="1.0" fill="#000"/>
<circle cx="443.16" cy="192.63" r="1.0" fill="#000"/>
<circle cx="436.05" cy="193.49" r="1.0" fill="#000"/>
<circle cx="428.95" cy="193.90" r="1.0" fill="#000"/>
<circle cx="421.84" cy="193.27" r="1.0" fill="#000"/>
<circle cx="414.73" cy="193.61" r="1.0" fill="#000"/>
<polyline points="414.73,194.27 415.68,194.27 416.62,194.26 417.57,194.26 418.52,194.26 419.47,194.26 420.41,194.26 421.36,194.26 422.31,194.26 423.26,194.26 424.21,194.25 425.15,194.25 426.10,194.25 427.05,194.24 428.00,194.24 428.95,194.23 429.89,194.23 430.84,194.22 431.79,194.22 432.74,194.21 433.68,194.20 434.63,194.19 435.58,194.18 436.53,194.16 437.48,194.15 438.42,194.13 439.37,194.11 440.32,194.09 441.27,194.06 442.22,194.03 443.16,194.00 444.11,193.97 445.06,193.93 446.01,193.89 446.96,193.84 447.90,193.79 448.85,193.74 449.80,193.69 450.75,193.63 451.69,193.57 452.64,193.51 453.59,193.45 454.54,193.39 455.49,193.33 456.43,193.27 457.38,193.22 458.33,193.16 459.28,193.11 460.23,193.06 461.17,193.02 462.12,192.97 463.07,192.93 464.02,192.90 464.96,192.87 465.91,192.84 466.86,192.81 467.81,192.79 468.76,192.77 469.70,192.75 470.65,192.73 471.60,192.72" fill="none" stroke="#222" stroke-width="0.6"/>
<rect x="470.60" y="192.05" width="2.00" height="2.00" fill="#000"/>
<rect x="463.49" y="191.55" width="2.00" height="2.00" fill="#000"/>
<rect x="456.38" y="192.22" width="2.00" height="2.00" fill="#000"/>
<rect x="449.27" y="192.33" width="2.00" height="2.00" fill="#000"/>
<rect x="442.16" y="193.00" width="2.00" height="2.00" fill="#000"/>
<rect x="435.05" y="193.50" width="2.00" height="2.00" fill="#000"/>
<rect x="427.95" y="193.23" width="2.00" height="2.00" fill="#000"/>
<rect x="420.84" y="192.93" width="2.00" height="2.00" fill="#000"/>
<rect x="413.73" y="193.27" width="2.00" height="2.00" fill="#000"/>
<polyline points="414.73,194.93 415.68,194.93 416.62,194.92 417.57,194.92 418.52,194.92 419.47,194.92 420.41,194.92 421.36,194.92 422.31,194.92 423.26,194.92 424.21,194.91 425.15,194.91 426.10,194.91 427.05,194.90 428.00,194.90 428.95,194.89 429.89,194.89 430.84,194.88 431.79,194.88 432.74,194.87 433.68,194.86 434.63,194.85 435.58,194.84 436.53,194.82 437.48,194.81 438.42,194.79 439.37,194.77 440.32,194.75 441.27,194.72 442.22,194.69 443.16,194.66 444.11,194.63 445.06,194.59 446.01,194.55 446.96,194.50 447.90,194.45 448.85,194.40 449.80,194.35 450.75,194.29 451.69,194.23 452.64,194.17 453.59,194.11 454.54,194.05 455.49,193.99 456.43,193.93 457.38,193.88 458.33,193.82 459.28,193.77 460.23,193.72 461.17,193.68 462.12,193.63 463.07,193.59 464.02,193.56 464.96,193.53 465.91,193.50 466.86,193.47 467.81,193.45 468.76,193.43 469.70,193.41 470.65,193.39 471.60,193.38" fill="none" stroke="#222" stroke-width="0.6"/>
<polygon points="471.60,191.52 472.70,193.52 470.50,193.52" fill="#000"/>
<polygon points="464.49,192.34 465.59,194.34 463.39,194.34" fill="#000"/>
<polygon points="457.38,193.34 458.48,195.34 456.28,195.34" fill="#000"/>
<polygon points="450.27,193.12 451.37,195.12 449.17,195.12" fill="#000"/>
<polygon points="443.16,193.79 444.26,195.79 442.06,195.79" fill="#000"/>
<polygon points="436.05,193.63 437.15,195.63 434.95,195.63" fill="#000"/>
<polygon points="428.95,193.36 430.05,195.36 427.85,195.36" fill="#000"/>
<polygon points="421.84,193.72 422.94,195.72 420.74,195.72" fill="#000"/>
<polygon points="414.73,194.06 415.83,196.06 413.63,196.06" fill="#000"/>
<line x1="20.10" y1="262.40" x2="20.10" y2="311.90" stroke="#5a5a5a" stroke-width="0.8" />
<line x1="18.80" y1="262.40" x2="20.10" y2="262.40" stroke="#5a5a5a" stroke-width="0.6" />
<line x1="18.80" y1="278.90" x2="20.10" y2="278.90" stroke="#5a5a5a" stroke-width="0.6" />
<line x1="18.80" y1="295.40" x2="20.10" y2="295.40" stroke="#5a5a5a" stroke-width="0.6" />
<line x1="18.80" y1="311.90" x2="20.10" y2="311.90" stroke="#5a5a5a" stroke-width="0.6" />
<line x1="20.10" y1="295.40" x2="95.10" y2="295.40" stroke="#5a5a5a" stroke-width="0.8" />
<text x="18.40" y="264.29" font-size="5.4" stroke="#333" stroke-width="0.2" text-anchor="end" fill="#333" >100</text>
<text x="18.40" y="280.79" font-size="5.4" stroke="#333" stroke-width="0.2" text-anchor="end" fill="#333" >50</text>
<text x="18.40" y="297.29" font-size="5.4" stroke="#333" stroke-width="0.2" text-anchor="end" fill="#333" >0</text>
<text x="18.40" y="313.79" font-size="5.4" stroke="#333" stroke-width="0.2" text-anchor="end" fill="#333" >-50</text>
<text x="34.70" y="302.89" font-size="5.4" stroke="#333" stroke-width="0.2" text-anchor="middle" fill="#333" >0.001</text>
<text x="49.80" y="302.89" font-size="5.4" stroke="#333" stroke-width="0.2" text-anchor="middle" fill="#333" >0.01</text>
<text x="64.90" y="302.89" font-size="5.4" stroke="#333" stroke-width="0.2" text-anchor="middle" fill="#333" >0.1</text>
<text x="80.00" y="302.89" font-size="5.4" stroke="#333" stroke-width="0.2" text-anchor="middle" fill="#333" >1</text>
<text x="95.10" y="302.89" font-size="5.4" stroke="#333" stroke-width="0.2" text-anchor="middle" fill="#333" >10</text>
<text x="58.00" y="241.45" font-size="5" text-anchor="middle" fill="#222" stroke="#222" stroke-width="0.25">TMD8 Ca<tspan font-size="3.3" dy="-2.5">2+</tspan><tspan dy="2.5"> flux</tspan></text>
<text x="58.00" y="248.05" font-size="5" stroke="#222" stroke-width="0.25" text-anchor="middle" fill="#222" >Ibrutinib</text>
<text x="35.00" y="311.29" font-size="5.4" stroke="#222" stroke-width="0.3" fill="#222" textLength="54.00" lengthAdjust="spacingAndGlyphs" >Concentration (µmol/L)</text>
<text transform="translate(4.75,285.90) rotate(-90)" x="0" y="1.82" font-size="5.4" text-anchor="middle" fill="#444" stroke="#444" stroke-width="0.1" textLength="33.20" lengthAdjust="spacingAndGlyphs">% of inhibition</text>
<line x1="86.10" y1="257.50" x2="90.70" y2="257.50" stroke="#222" stroke-width="0.6" />
<circle cx="88.40" cy="257.50" r="0.9" fill="#000"/>
<text x="92.75" y="259.35" font-size="5.6" stroke="#222" stroke-width="0.12" fill="#222" textLength="28.25" lengthAdjust="spacingAndGlyphs" >Ibrutinib_1 h</text>
<line x1="86.10" y1="263.10" x2="90.70" y2="263.10" stroke="#222" stroke-width="0.6" />
<rect x="87.50" y="262.20" width="1.80" height="1.80" fill="#000"/>
<text x="92.75" y="264.95" font-size="5.6" stroke="#444" stroke-width="0.12" fill="#444" textLength="28.25" lengthAdjust="spacingAndGlyphs" >Ibrutinib_2 h</text>
<line x1="86.10" y1="269.00" x2="90.70" y2="269.00" stroke="#222" stroke-width="0.6" />
<polygon points="88.40,267.92 89.39,269.72 87.41,269.72" fill="#000"/>
<text x="92.75" y="270.85" font-size="5.6" stroke="#444" stroke-width="0.12" fill="#444" textLength="28.25" lengthAdjust="spacingAndGlyphs" >Ibrutinib_4 h</text>
<polyline points="22.36,293.84 23.32,293.76 24.28,293.66 25.25,293.56 26.21,293.43 27.17,293.29 28.13,293.14 29.09,292.96 30.05,292.76 31.01,292.53 31.97,292.28 32.93,292.00 33.89,291.68 34.85,291.33 35.81,290.94 36.77,290.51 37.73,290.04 38.69,289.53 39.65,288.98 40.62,288.39 41.58,287.75 42.54,287.08 43.50,286.38 44.46,285.65 45.42,284.90 46.38,284.13 47.34,283.35 48.30,282.57 49.26,281.79 50.22,281.03 51.18,280.29 52.14,279.58 53.10,278.90 54.06,278.25 55.02,277.64 55.98,277.07 56.95,276.54 57.91,276.06 58.87,275.61 59.83,275.21 60.79,274.84 61.75,274.51 62.71,274.21 63.67,273.95 64.63,273.71 65.59,273.50 66.55,273.31 67.51,273.15 68.47,273.00 69.43,272.87 70.39,272.76 71.35,272.66 72.32,272.57 73.28,272.50 74.24,272.43 75.20,272.37 76.16,272.32 77.12,272.27 78.08,272.24 79.04,272.20 80.00,272.17" fill="none" stroke="#222" stroke-width="0.6"/>
<circle cx="80.00" cy="272.17" r="1.0" fill="#000"/>
<circle cx="72.80" cy="272.53" r="1.0" fill="#000"/>
<circle cx="65.59" cy="274.49" r="1.0" fill="#000"/>
<circle cx="58.39" cy="275.83" r="1.0" fill="#000"/>
<circle cx="51.18" cy="279.30" r="1.0" fill="#000"/>
<circle cx="43.98" cy="286.68" r="1.0" fill="#000"/>
<circle cx="36.77" cy="289.85" r="1.0" fill="#000"/>
<circle cx="29.57" cy="292.86" r="1.0" fill="#000"/>
<circle cx="22.36" cy="293.84" r="1.0" fill="#000"/>
<polyline points="22.36,294.58 23.32,294.55 24.28,294.51 25.25,294.47 26.21,294.42 27.17,294.36 28.13,294.29 29.09,294.21 30.05,294.11 31.01,293.99 31.97,293.85 32.93,293.69 33.89,293.50 34.85,293.28 35.81,293.03 36.77,292.74 37.73,292.40 38.69,292.02 39.65,291.58 40.62,291.10 41.58,290.56 42.54,289.96 43.50,289.31 44.46,288.61 45.42,287.87 46.38,287.10 47.34,286.30 48.30,285.49 49.26,284.68 50.22,283.88 51.18,283.11 52.14,282.37 53.10,281.68 54.06,281.03 55.02,280.43 55.98,279.89 56.95,279.41 57.91,278.97 58.87,278.59 59.83,278.26 60.79,277.96 61.75,277.71 62.71,277.49 63.67,277.31 64.63,277.14 65.59,277.01 66.55,276.89 67.51,276.79 68.47,276.71 69.43,276.64 70.39,276.58 71.35,276.53 72.32,276.48 73.28,276.45 74.24,276.42 75.20,276.39 76.16,276.37 77.12,276.35 78.08,276.34 79.04,276.33 80.00,276.32" fill="none" stroke="#222" stroke-width="0.6"/>
<rect x="79.00" y="275.32" width="2.00" height="2.00" fill="#000"/>
<rect x="71.80" y="274.81" width="2.00" height="2.00" fill="#000"/>
<rect x="64.59" y="276.67" width="2.00" height="2.00" fill="#000"/>
<rect x="57.39" y="276.79" width="2.00" height="2.00" fill="#000"/>
<rect x="50.18" y="282.11" width="2.00" height="2.00" fill="#000"/>
<rect x="42.98" y="287.31" width="2.00" height="2.00" fill="#000"/>
<rect x="35.77" y="293.39" width="2.00" height="2.00" fill="#000"/>
<rect x="28.57" y="292.83" width="2.00" height="2.00" fill="#000"/>
<rect x="21.36" y="293.58" width="2.00" height="2.00" fill="#000"/>
<polyline points="22.36,295.37 23.32,295.36 24.28,295.35 25.25,295.33 26.21,295.31 27.17,295.29 28.13,295.26 29.09,295.23 30.05,295.18 31.01,295.12 31.97,295.05 32.93,294.96 33.89,294.85 34.85,294.72 35.81,294.55 36.77,294.34 37.73,294.09 38.69,293.79 39.65,293.43 40.62,293.00 41.58,292.51 42.54,291.94 43.50,291.31 44.46,290.62 45.42,289.89 46.38,289.12 47.34,288.35 48.30,287.59 49.26,286.86 50.22,286.18 51.18,285.56 52.14,285.01 53.10,284.53 54.06,284.11 55.02,283.76 55.98,283.46 56.95,283.22 57.91,283.02 58.87,282.86 59.83,282.73 60.79,282.62 61.75,282.53 62.71,282.47 63.67,282.41 64.63,282.37 65.59,282.33 66.55,282.31 67.51,282.28 68.47,282.27 69.43,282.25 70.39,282.24 71.35,282.23 72.32,282.23 73.28,282.22 74.24,282.22 75.20,282.21 76.16,282.21 77.12,282.21 78.08,282.21 79.04,282.21 80.00,282.20" fill="none" stroke="#222" stroke-width="0.6"/>
<polygon points="80.00,281.00 81.10,283.00 78.90,283.00" fill="#000"/>
<polygon points="72.80,282.01 73.90,284.01 71.70,284.01" fill="#000"/>
<polygon points="65.59,285.09 66.69,287.09 64.49,287.09" fill="#000"/>
<polygon points="58.39,281.73 59.49,283.73 57.29,283.73" fill="#000"/>
<polygon points="51.18,287.66 52.28,289.66 50.08,289.66" fill="#000"/>
<polygon points="43.98,288.12 45.08,290.12 42.88,290.12" fill="#000"/>
<polygon points="36.77,294.13 37.87,296.13 35.67,296.13" fill="#000"/>
<polygon points="29.57,295.65 30.67,297.65 28.47,297.65" fill="#000"/>
<polygon points="22.36,294.17 23.46,296.17 21.26,296.17" fill="#000"/>
<line x1="142.40" y1="261.90" x2="142.40" y2="311.40" stroke="#5a5a5a" stroke-width="0.8" />
<line x1="141.10" y1="261.90" x2="142.40" y2="261.90" stroke="#5a5a5a" stroke-width="0.6" />
<line x1="141.10" y1="278.40" x2="142.40" y2="278.40" stroke="#5a5a5a" stroke-width="0.6" />
<line x1="141.10" y1="294.90" x2="142.40" y2="294.90" stroke="#5a5a5a" stroke-width="0.6" />
<line x1="141.10" y1="311.40" x2="142.40" y2="311.40" stroke="#5a5a5a" stroke-width="0.6" />
<line x1="142.40" y1="294.90" x2="217.32" y2="294.90" stroke="#5a5a5a" stroke-width="0.8" />
<text x="140.70" y="263.79" font-size="5.4" stroke="#333" stroke-width="0.2" text-anchor="end" fill="#333" >100</text>
<text x="140.70" y="280.29" font-size="5.4" stroke="#333" stroke-width="0.2" text-anchor="end" fill="#333" >50</text>
<text x="140.70" y="296.79" font-size="5.4" stroke="#333" stroke-width="0.2" text-anchor="end" fill="#333" >0</text>
<text x="140.70" y="313.29" font-size="5.4" stroke="#333" stroke-width="0.2" text-anchor="end" fill="#333" >-50</text>
<text x="157.20" y="302.39" font-size="5.4" stroke="#333" stroke-width="0.2" text-anchor="middle" fill="#333" >0.001</text>
<text x="172.23" y="302.39" font-size="5.4" stroke="#333" stroke-width="0.2" text-anchor="middle" fill="#333" >0.01</text>
<text x="187.26" y="302.39" font-size="5.4" stroke="#333" stroke-width="0.2" text-anchor="middle" fill="#333" >0.1</text>
<text x="202.29" y="302.39" font-size="5.4" stroke="#333" stroke-width="0.2" text-anchor="middle" fill="#333" >1</text>
<text x="217.32" y="302.39" font-size="5.4" stroke="#333" stroke-width="0.2" text-anchor="middle" fill="#333" >10</text>
<text x="180.20" y="241.15" font-size="5" text-anchor="middle" fill="#222" stroke="#222" stroke-width="0.25">TMD8 Ca<tspan font-size="3.3" dy="-2.5">2+</tspan><tspan dy="2.5"> flux</tspan></text>
<text x="180.20" y="247.75" font-size="5" stroke="#222" stroke-width="0.25" text-anchor="middle" fill="#222" >Acalabrutinib</text>
<text x="157.20" y="310.69" font-size="5.4" stroke="#222" stroke-width="0.3" fill="#222" textLength="54.80" lengthAdjust="spacingAndGlyphs" >Concentration (µmol/L)</text>
<text transform="translate(127.60,285.40) rotate(-90)" x="0" y="1.82" font-size="5.4" text-anchor="middle" fill="#444" stroke="#444" stroke-width="0.1" textLength="32.00" lengthAdjust="spacingAndGlyphs">% of inhibition</text>
<line x1="206.60" y1="260.25" x2="210.90" y2="260.25" stroke="#222" stroke-width="0.6" />
<circle cx="208.75" cy="260.25" r="0.9" fill="#000"/>
<text x="213.10" y="262.10" font-size="5.6" stroke="#222" stroke-width="0.12" fill="#222" textLength="38.80" lengthAdjust="spacingAndGlyphs" >Acalabrutinib_1 h</text>
<line x1="206.60" y1="266.50" x2="210.90" y2="266.50" stroke="#222" stroke-width="0.6" />
<rect x="207.85" y="265.60" width="1.80" height="1.80" fill="#000"/>
<text x="213.10" y="268.35" font-size="5.6" stroke="#444" stroke-width="0.12" fill="#444" textLength="38.80" lengthAdjust="spacingAndGlyphs" >Acalabrutinib_2 h</text>
<line x1="206.60" y1="272.75" x2="210.90" y2="272.75" stroke="#222" stroke-width="0.6" />
<polygon points="208.75,271.67 209.74,273.47 207.76,273.47" fill="#000"/>
<text x="213.10" y="274.60" font-size="5.6" stroke="#444" stroke-width="0.12" fill="#444" textLength="38.80" lengthAdjust="spacingAndGlyphs" >Acalabrutinib_4 h</text>
<polyline points="144.92,294.90 145.88,294.90 146.83,294.89 147.79,294.89 148.75,294.89 149.70,294.89 150.66,294.89 151.61,294.89 152.57,294.89 153.53,294.88 154.48,294.88 155.44,294.88 156.39,294.87 157.35,294.87 158.31,294.86 159.26,294.86 160.22,294.85 161.18,294.84 162.13,294.83 163.09,294.82 164.04,294.80 165.00,294.78 165.96,294.76 166.91,294.74 167.87,294.71 168.82,294.68 169.78,294.64 170.74,294.60 171.69,294.54 172.65,294.48 173.61,294.41 174.56,294.33 175.52,294.23 176.47,294.12 177.43,293.99 178.39,293.83 179.34,293.66 180.30,293.45 181.25,293.21 182.21,292.94 183.17,292.63 184.12,292.27 185.08,291.87 186.04,291.41 186.99,290.90 187.95,290.32 188.90,289.68 189.86,288.98 190.82,288.21 191.77,287.39 192.73,286.50 193.68,285.56 194.64,284.59 195.60,283.58 196.55,282.55 197.51,281.51 198.47,280.48 199.42,279.47 200.38,278.49 201.33,277.56 202.29,276.67" fill="none" stroke="#222" stroke-width="0.6"/>
<circle cx="202.29" cy="276.67" r="1.0" fill="#000"/>
<circle cx="195.12" cy="284.08" r="1.0" fill="#000"/>
<circle cx="187.95" cy="290.32" r="1.0" fill="#000"/>
<circle cx="180.78" cy="293.34" r="1.0" fill="#000"/>
<circle cx="173.61" cy="295.07" r="1.0" fill="#000"/>
<circle cx="166.43" cy="294.75" r="1.0" fill="#000"/>
<circle cx="159.26" cy="294.20" r="1.0" fill="#000"/>
<circle cx="152.09" cy="295.88" r="1.0" fill="#000"/>
<circle cx="144.92" cy="294.24" r="1.0" fill="#000"/>
<polyline points="144.92,294.79 145.88,294.77 146.83,294.75 147.79,294.72 148.75,294.69 149.70,294.65 150.66,294.61 151.61,294.56 152.57,294.50 153.53,294.43 154.48,294.35 155.44,294.26 156.39,294.15 157.35,294.03 158.31,293.89 159.26,293.72 160.22,293.53 161.18,293.32 162.13,293.07 163.09,292.79 164.04,292.48 165.00,292.12 165.96,291.73 166.91,291.30 167.87,290.83 168.82,290.31 169.78,289.76 170.74,289.17 171.69,288.56 172.65,287.92 173.61,287.26 174.56,286.60 175.52,285.93 176.47,285.28 177.43,284.64 178.39,284.03 179.34,283.45 180.30,282.90 181.25,282.40 182.21,281.93 183.17,281.50 184.12,281.12 185.08,280.77 186.04,280.46 186.99,280.19 187.95,279.95 188.90,279.74 189.86,279.55 190.82,279.39 191.77,279.25 192.73,279.13 193.68,279.02 194.64,278.93 195.60,278.86 196.55,278.79 197.51,278.73 198.47,278.68 199.42,278.64 200.38,278.61 201.33,278.58 202.29,278.55" fill="none" stroke="#222" stroke-width="0.6"/>
<rect x="201.29" y="277.55" width="2.00" height="2.00" fill="#000"/>
<rect x="194.12" y="277.89" width="2.00" height="2.00" fill="#000"/>
<rect x="186.95" y="278.95" width="2.00" height="2.00" fill="#000"/>
<rect x="179.78" y="281.64" width="2.00" height="2.00" fill="#000"/>
<rect x="172.61" y="287.25" width="2.00" height="2.00" fill="#000"/>
<rect x="165.43" y="290.52" width="2.00" height="2.00" fill="#000"/>
<rect x="158.26" y="291.07" width="2.00" height="2.00" fill="#000"/>
<rect x="151.09" y="294.52" width="2.00" height="2.00" fill="#000"/>
<rect x="143.92" y="293.79" width="2.00" height="2.00" fill="#000"/>
<polyline points="144.92,294.89 145.88,294.89 146.83,294.89 147.79,294.89 148.75,294.88 149.70,294.88 150.66,294.88 151.61,294.87 152.57,294.86 153.53,294.85 154.48,294.84 155.44,294.83 156.39,294.81 157.35,294.79 158.31,294.76 159.26,294.73 160.22,294.69 161.18,294.64 162.13,294.58 163.09,294.50 164.04,294.41 165.00,294.29 165.96,294.15 166.91,293.97 167.87,293.76 168.82,293.50 169.78,293.20 170.74,292.83 171.69,292.41 172.65,291.91 173.61,291.34 174.56,290.70 175.52,289.98 176.47,289.21 177.43,288.39 178.39,287.53 179.34,286.66 180.30,285.80 181.25,284.97 182.21,284.18 183.17,283.45 184.12,282.79 185.08,282.20 186.04,281.68 186.99,281.23 187.95,280.85 188.90,280.53 189.86,280.26 190.82,280.04 191.77,279.86 192.73,279.71 193.68,279.58 194.64,279.48 195.60,279.40 196.55,279.34 197.51,279.28 198.47,279.24 199.42,279.20 200.38,279.18 201.33,279.15 202.29,279.13" fill="none" stroke="#222" stroke-width="0.6"/>
<polygon points="202.29,277.93 203.39,279.93 201.19,279.93" fill="#000"/>
<polygon points="195.12,278.24 196.22,280.24 194.02,280.24" fill="#000"/>
<polygon points="187.95,279.65 189.05,281.65 186.85,281.65" fill="#000"/>
<polygon points="180.78,284.18 181.88,286.18 179.68,286.18" fill="#000"/>
<polygon points="173.61,288.49 174.71,290.49 172.51,290.49" fill="#000"/>
<polygon points="166.43,294.18 167.53,296.18 165.33,296.18" fill="#000"/>
<polygon points="159.26,292.54 160.36,294.54 158.16,294.54" fill="#000"/>
<polygon points="152.09,293.67 153.19,295.67 150.99,295.67" fill="#000"/>
<polygon points="144.92,294.35 146.02,296.35 143.82,296.35" fill="#000"/>
<line x1="274.40" y1="261.90" x2="274.40" y2="311.40" stroke="#5a5a5a" stroke-width="0.8" />
<line x1="273.10" y1="261.90" x2="274.40" y2="261.90" stroke="#5a5a5a" stroke-width="0.6" />
<line x1="273.10" y1="278.40" x2="274.40" y2="278.40" stroke="#5a5a5a" stroke-width="0.6" />
<line x1="273.10" y1="294.90" x2="274.40" y2="294.90" stroke="#5a5a5a" stroke-width="0.6" />
<line x1="273.10" y1="311.40" x2="274.40" y2="311.40" stroke="#5a5a5a" stroke-width="0.6" />
<line x1="274.40" y1="294.90" x2="349.48" y2="294.90" stroke="#5a5a5a" stroke-width="0.8" />
<text x="272.70" y="263.79" font-size="5.4" stroke="#333" stroke-width="0.2" text-anchor="end" fill="#333" >100</text>
<text x="272.70" y="280.29" font-size="5.4" stroke="#333" stroke-width="0.2" text-anchor="end" fill="#333" >50</text>
<text x="272.70" y="296.79" font-size="5.4" stroke="#333" stroke-width="0.2" text-anchor="end" fill="#333" >0</text>
<text x="272.70" y="313.29" font-size="5.4" stroke="#333" stroke-width="0.2" text-anchor="end" fill="#333" >-50</text>
<text x="290.00" y="302.69" font-size="5.4" stroke="#333" stroke-width="0.2" text-anchor="middle" fill="#333" >0.001</text>
<text x="304.87" y="302.69" font-size="5.4" stroke="#333" stroke-width="0.2" text-anchor="middle" fill="#333" >0.01</text>
<text x="319.74" y="302.69" font-size="5.4" stroke="#333" stroke-width="0.2" text-anchor="middle" fill="#333" >0.1</text>
<text x="334.61" y="302.69" font-size="5.4" stroke="#333" stroke-width="0.2" text-anchor="middle" fill="#333" >1</text>
<text x="349.48" y="302.69" font-size="5.4" stroke="#333" stroke-width="0.2" text-anchor="middle" fill="#333" >10</text>
<text x="312.40" y="241.35" font-size="5" text-anchor="middle" fill="#222" stroke="#222" stroke-width="0.25">TMD8 Ca<tspan font-size="3.3" dy="-2.5">2+</tspan><tspan dy="2.5"> flux</tspan></text>
<text x="312.40" y="247.75" font-size="5" stroke="#222" stroke-width="0.25" text-anchor="middle" fill="#222" >Zanubrutinib</text>
<text x="289.70" y="310.69" font-size="5.4" stroke="#222" stroke-width="0.3" fill="#222" textLength="52.60" lengthAdjust="spacingAndGlyphs" >Concentration (µmol/L)</text>
<text transform="translate(259.90,285.40) rotate(-90)" x="0" y="1.82" font-size="5.4" text-anchor="middle" fill="#444" stroke="#444" stroke-width="0.1" textLength="33.00" lengthAdjust="spacingAndGlyphs">% of inhibition</text>
<line x1="340.10" y1="259.10" x2="345.00" y2="259.10" stroke="#222" stroke-width="0.6" />
<circle cx="342.55" cy="259.10" r="0.9" fill="#000"/>
<text x="346.40" y="260.95" font-size="5.6" stroke="#222" stroke-width="0.12" fill="#222" textLength="37.60" lengthAdjust="spacingAndGlyphs" >Zanubrutinib_1 h</text>
<line x1="340.10" y1="264.80" x2="345.00" y2="264.80" stroke="#222" stroke-width="0.6" />
<rect x="341.65" y="263.90" width="1.80" height="1.80" fill="#000"/>
<text x="346.40" y="266.65" font-size="5.6" stroke="#444" stroke-width="0.12" fill="#444" textLength="37.60" lengthAdjust="spacingAndGlyphs" >Zanubrutinib_2 h</text>
<line x1="340.10" y1="270.60" x2="345.00" y2="270.60" stroke="#222" stroke-width="0.6" />
<polygon points="342.55,269.52 343.54,271.32 341.56,271.32" fill="#000"/>
<text x="346.40" y="272.45" font-size="5.6" stroke="#444" stroke-width="0.12" fill="#444" textLength="37.60" lengthAdjust="spacingAndGlyphs" >Zanubrutinib_4 h</text>
<polyline points="277.85,294.80 278.80,294.79 279.74,294.76 280.69,294.74 281.64,294.71 282.58,294.67 283.53,294.63 284.47,294.58 285.42,294.52 286.37,294.44 287.31,294.36 288.26,294.26 289.20,294.14 290.15,294.00 291.10,293.84 292.04,293.65 292.99,293.43 293.93,293.17 294.88,292.87 295.83,292.53 296.77,292.14 297.72,291.70 298.66,291.20 299.61,290.65 300.55,290.04 301.50,289.38 302.45,288.66 303.39,287.90 304.34,287.10 305.28,286.28 306.23,285.44 307.18,284.60 308.12,283.77 309.07,282.97 310.01,282.20 310.96,281.47 311.91,280.79 312.85,280.17 313.80,279.60 314.74,279.09 315.69,278.63 316.64,278.23 317.58,277.87 318.53,277.57 319.47,277.30 320.42,277.07 321.37,276.87 322.31,276.70 323.26,276.55 324.20,276.43 325.15,276.33 326.10,276.24 327.04,276.16 327.99,276.10 328.93,276.04 329.88,276.00 330.83,275.96 331.77,275.93 332.72,275.90 333.66,275.88 334.61,275.86" fill="none" stroke="#222" stroke-width="0.6"/>
<circle cx="334.61" cy="275.86" r="1.0" fill="#000"/>
<circle cx="327.52" cy="276.13" r="1.0" fill="#000"/>
<circle cx="320.42" cy="276.41" r="1.0" fill="#000"/>
<circle cx="313.33" cy="280.54" r="1.0" fill="#000"/>
<circle cx="306.23" cy="285.44" r="1.0" fill="#000"/>
<circle cx="299.14" cy="289.94" r="1.0" fill="#000"/>
<circle cx="292.04" cy="293.98" r="1.0" fill="#000"/>
<circle cx="284.95" cy="294.55" r="1.0" fill="#000"/>
<circle cx="277.85" cy="294.80" r="1.0" fill="#000"/>
<polyline points="277.85,293.73 278.80,293.57 279.74,293.40 280.69,293.21 281.64,292.99 282.58,292.76 283.53,292.49 284.47,292.20 285.42,291.88 286.37,291.53 287.31,291.15 288.26,290.73 289.20,290.29 290.15,289.81 291.10,289.30 292.04,288.77 292.99,288.20 293.93,287.62 294.88,287.02 295.83,286.40 296.77,285.77 297.72,285.14 298.66,284.51 299.61,283.89 300.55,283.28 301.50,282.69 302.45,282.12 303.39,281.57 304.34,281.05 305.28,280.56 306.23,280.10 307.18,279.68 308.12,279.28 309.07,278.92 310.01,278.59 310.96,278.28 311.91,278.01 312.85,277.76 313.80,277.54 314.74,277.33 315.69,277.15 316.64,276.99 317.58,276.85 318.53,276.72 319.47,276.61 320.42,276.51 321.37,276.42 322.31,276.34 323.26,276.27 324.20,276.21 325.15,276.15 326.10,276.11 327.04,276.06 327.99,276.03 328.93,275.99 329.88,275.97 330.83,275.94 331.77,275.92 332.72,275.90 333.66,275.88 334.61,275.87" fill="none" stroke="#222" stroke-width="0.6"/>
<rect x="333.61" y="274.87" width="2.00" height="2.00" fill="#000"/>
<rect x="326.52" y="274.38" width="2.00" height="2.00" fill="#000"/>
<rect x="319.42" y="275.51" width="2.00" height="2.00" fill="#000"/>
<rect x="312.33" y="276.64" width="2.00" height="2.00" fill="#000"/>
<rect x="305.23" y="279.10" width="2.00" height="2.00" fill="#000"/>
<rect x="298.14" y="282.21" width="2.00" height="2.00" fill="#000"/>
<rect x="291.04" y="288.76" width="2.00" height="2.00" fill="#000"/>
<rect x="283.95" y="291.04" width="2.00" height="2.00" fill="#000"/>
<rect x="276.85" y="292.73" width="2.00" height="2.00" fill="#000"/>
<polyline points="277.85,294.44 278.80,294.35 279.74,294.24 280.69,294.10 281.64,293.95 282.58,293.77 283.53,293.55 284.47,293.30 285.42,293.01 286.37,292.68 287.31,292.31 288.26,291.88 289.20,291.41 290.15,290.90 291.10,290.34 292.04,289.75 292.99,289.13 293.93,288.49 294.88,287.85 295.83,287.21 296.77,286.59 297.72,285.99 298.66,285.43 299.61,284.91 300.55,284.44 301.50,284.01 302.45,283.63 303.39,283.29 304.34,283.00 305.28,282.75 306.23,282.53 307.18,282.34 308.12,282.18 309.07,282.05 310.01,281.94 310.96,281.84 311.91,281.76 312.85,281.70 313.80,281.64 314.74,281.59 315.69,281.56 316.64,281.52 317.58,281.50 318.53,281.48 319.47,281.46 320.42,281.44 321.37,281.43 322.31,281.42 323.26,281.41 324.20,281.40 325.15,281.40 326.10,281.39 327.04,281.39 327.99,281.39 328.93,281.38 329.88,281.38 330.83,281.38 331.77,281.38 332.72,281.38 333.66,281.38 334.61,281.37" fill="none" stroke="#222" stroke-width="0.6"/>
<polygon points="334.61,280.17 335.71,282.17 333.51,282.17" fill="#000"/>
<polygon points="327.52,280.19 328.62,282.19 326.42,282.19" fill="#000"/>
<polygon points="320.42,280.24 321.52,282.24 319.32,282.24" fill="#000"/>
<polygon points="313.33,280.47 314.43,282.47 312.23,282.47" fill="#000"/>
<polygon points="306.23,281.99 307.33,283.99 305.13,283.99" fill="#000"/>
<polygon points="299.14,282.65 300.24,284.65 298.04,284.65" fill="#000"/>
<polygon points="292.04,289.54 293.14,291.54 290.94,291.54" fill="#000"/>
<polygon points="284.95,291.96 286.05,293.96 283.85,293.96" fill="#000"/>
<polygon points="277.85,293.24 278.95,295.24 276.75,295.24" fill="#000"/>
<line x1="410.80" y1="259.40" x2="410.80" y2="311.90" stroke="#5a5a5a" stroke-width="0.8" />
<line x1="409.50" y1="259.40" x2="410.80" y2="259.40" stroke="#5a5a5a" stroke-width="0.6" />
<line x1="409.50" y1="276.90" x2="410.80" y2="276.90" stroke="#5a5a5a" stroke-width="0.6" />
<line x1="409.50" y1="294.40" x2="410.80" y2="294.40" stroke="#5a5a5a" stroke-width="0.6" />
<line x1="409.50" y1="311.90" x2="410.80" y2="311.90" stroke="#5a5a5a" stroke-width="0.6" />
<line x1="410.80" y1="294.40" x2="489.92" y2="294.40" stroke="#5a5a5a" stroke-width="0.8" />
<text x="409.10" y="261.29" font-size="5.4" stroke="#333" stroke-width="0.2" text-anchor="end" fill="#333" >100</text>
<text x="409.10" y="278.79" font-size="5.4" stroke="#333" stroke-width="0.2" text-anchor="end" fill="#333" >50</text>
<text x="409.10" y="296.29" font-size="5.4" stroke="#333" stroke-width="0.2" text-anchor="end" fill="#333" >0</text>
<text x="409.10" y="313.79" font-size="5.4" stroke="#333" stroke-width="0.2" text-anchor="end" fill="#333" >-50</text>
<text x="425.40" y="302.39" font-size="5.4" stroke="#333" stroke-width="0.2" text-anchor="middle" fill="#333" >0.001</text>
<text x="441.53" y="302.39" font-size="5.4" stroke="#333" stroke-width="0.2" text-anchor="middle" fill="#333" >0.01</text>
<text x="457.66" y="302.39" font-size="5.4" stroke="#333" stroke-width="0.2" text-anchor="middle" fill="#333" >0.1</text>
<text x="473.79" y="302.39" font-size="5.4" stroke="#333" stroke-width="0.2" text-anchor="middle" fill="#333" >1</text>
<text x="489.92" y="302.39" font-size="5.4" stroke="#333" stroke-width="0.2" text-anchor="middle" fill="#333" >10</text>
<text x="450.20" y="237.35" font-size="5" text-anchor="middle" fill="#222" stroke="#222" stroke-width="0.25">TMD8 Ca<tspan font-size="3.3" dy="-2.5">2+</tspan><tspan dy="2.5"> flux</tspan></text>
<text x="450.20" y="243.75" font-size="5" stroke="#222" stroke-width="0.25" text-anchor="middle" fill="#222" >GDC-0853</text>
<text x="426.50" y="310.79" font-size="5.4" stroke="#222" stroke-width="0.3" fill="#222" textLength="52.70" lengthAdjust="spacingAndGlyphs" >Concentration (µmol/L)</text>
<text transform="translate(395.20,284.00) rotate(-90)" x="0" y="1.82" font-size="5.4" text-anchor="middle" fill="#444" stroke="#444" stroke-width="0.1" textLength="34.00" lengthAdjust="spacingAndGlyphs">% of inhibition</text>
<line x1="479.80" y1="256.60" x2="484.40" y2="256.60" stroke="#222" stroke-width="0.6" />
<circle cx="482.10" cy="256.60" r="0.9" fill="#000"/>
<text x="485.60" y="258.45" font-size="5.6" stroke="#222" stroke-width="0.12" fill="#222" textLength="34.90" lengthAdjust="spacingAndGlyphs" >GDC-0853_1 h</text>
<line x1="479.80" y1="262.90" x2="484.40" y2="262.90" stroke="#222" stroke-width="0.6" />
<rect x="481.20" y="262.00" width="1.80" height="1.80" fill="#000"/>
<text x="485.60" y="264.75" font-size="5.6" stroke="#444" stroke-width="0.12" fill="#444" textLength="34.90" lengthAdjust="spacingAndGlyphs" >GDC-0853_2 h</text>
<line x1="479.80" y1="268.75" x2="484.40" y2="268.75" stroke="#222" stroke-width="0.6" />
<polygon points="482.10,267.67 483.09,269.47 481.11,269.47" fill="#000"/>
<text x="485.60" y="270.60" font-size="5.6" stroke="#444" stroke-width="0.12" fill="#444" textLength="34.90" lengthAdjust="spacingAndGlyphs" >GDC-0853_4 h</text>
<polyline points="412.22,294.25 413.25,294.22 414.27,294.19 415.30,294.15 416.33,294.10 417.35,294.04 418.38,293.97 419.41,293.89 420.43,293.80 421.46,293.69 422.48,293.55 423.51,293.40 424.54,293.21 425.56,293.00 426.59,292.74 427.61,292.45 428.64,292.11 429.67,291.71 430.69,291.26 431.72,290.74 432.74,290.15 433.77,289.48 434.80,288.74 435.82,287.92 436.85,287.03 437.88,286.06 438.90,285.03 439.93,283.95 440.95,282.82 441.98,281.68 443.01,280.52 444.03,279.38 445.06,278.27 446.08,277.20 447.11,276.19 448.14,275.24 449.16,274.37 450.19,273.57 451.22,272.86 452.24,272.22 453.27,271.65 454.29,271.15 455.32,270.71 456.35,270.33 457.37,270.01 458.40,269.73 459.42,269.48 460.45,269.28 461.48,269.10 462.50,268.95 463.53,268.83 464.55,268.72 465.58,268.63 466.61,268.55 467.63,268.49 468.66,268.44 469.69,268.39 470.71,268.35 471.74,268.32 472.76,268.29 473.79,268.27" fill="none" stroke="#222" stroke-width="0.6"/>
<circle cx="473.79" cy="268.97" r="1.0" fill="#000"/>
<circle cx="466.09" cy="267.19" r="1.0" fill="#000"/>
<circle cx="458.40" cy="269.03" r="1.0" fill="#000"/>
<circle cx="450.70" cy="273.21" r="1.0" fill="#000"/>
<circle cx="443.01" cy="279.82" r="1.0" fill="#000"/>
<circle cx="435.31" cy="289.39" r="1.0" fill="#000"/>
<circle cx="427.61" cy="291.40" r="1.0" fill="#000"/>
<circle cx="419.92" cy="293.85" r="1.0" fill="#000"/>
<circle cx="412.22" cy="294.25" r="1.0" fill="#000"/>
<polyline points="412.22,294.33 413.25,294.31 414.27,294.30 415.30,294.28 416.33,294.25 417.35,294.23 418.38,294.19 419.41,294.15 420.43,294.11 421.46,294.05 422.48,293.98 423.51,293.91 424.54,293.81 425.56,293.71 426.59,293.58 427.61,293.43 428.64,293.25 429.67,293.04 430.69,292.80 431.72,292.52 432.74,292.19 433.77,291.82 434.80,291.39 435.82,290.90 436.85,290.35 437.88,289.74 438.90,289.06 439.93,288.32 440.95,287.51 441.98,286.66 443.01,285.75 444.03,284.81 445.06,283.85 446.08,282.88 447.11,281.92 448.14,280.98 449.16,280.08 450.19,279.22 451.22,278.42 452.24,277.68 453.27,277.00 454.29,276.39 455.32,275.84 456.35,275.35 457.37,274.93 458.40,274.55 459.42,274.23 460.45,273.95 461.48,273.70 462.50,273.50 463.53,273.32 464.55,273.17 465.58,273.04 466.61,272.93 467.63,272.84 468.66,272.76 469.69,272.70 470.71,272.64 471.74,272.60 472.76,272.56 473.79,272.52" fill="none" stroke="#222" stroke-width="0.6"/>
<rect x="472.79" y="271.52" width="2.00" height="2.00" fill="#000"/>
<rect x="465.09" y="271.99" width="2.00" height="2.00" fill="#000"/>
<rect x="457.40" y="273.55" width="2.00" height="2.00" fill="#000"/>
<rect x="449.70" y="277.81" width="2.00" height="2.00" fill="#000"/>
<rect x="442.01" y="285.80" width="2.00" height="2.00" fill="#000"/>
<rect x="434.31" y="289.45" width="2.00" height="2.00" fill="#000"/>
<rect x="426.61" y="292.43" width="2.00" height="2.00" fill="#000"/>
<rect x="418.92" y="293.83" width="2.00" height="2.00" fill="#000"/>
<rect x="411.22" y="293.33" width="2.00" height="2.00" fill="#000"/>
<polyline points="412.22,294.33 413.25,294.32 414.27,294.30 415.30,294.28 416.33,294.26 417.35,294.24 418.38,294.21 419.41,294.18 420.43,294.14 421.46,294.09 422.48,294.04 423.51,293.98 424.54,293.91 425.56,293.83 426.59,293.73 427.61,293.62 428.64,293.49 429.67,293.34 430.69,293.16 431.72,292.96 432.74,292.73 433.77,292.47 434.80,292.17 435.82,291.83 436.85,291.44 437.88,291.01 438.90,290.53 439.93,290.01 440.95,289.43 441.98,288.81 443.01,288.14 444.03,287.42 445.06,286.68 446.08,285.90 447.11,285.11 448.14,284.30 449.16,283.50 450.19,282.71 451.22,281.95 452.24,281.21 453.27,280.51 454.29,279.85 455.32,279.24 456.35,278.68 457.37,278.17 458.40,277.70 459.42,277.29 460.45,276.92 461.48,276.59 462.50,276.30 463.53,276.05 464.55,275.83 465.58,275.63 466.61,275.47 467.63,275.32 468.66,275.20 469.69,275.09 470.71,275.00 471.74,274.92 472.76,274.85 473.79,274.79" fill="none" stroke="#222" stroke-width="0.6"/>
<polygon points="473.79,273.59 474.89,275.59 472.69,275.59" fill="#000"/>
<polygon points="466.09,274.35 467.19,276.35 464.99,276.35" fill="#000"/>
<polygon points="458.40,275.80 459.50,277.80 457.30,277.80" fill="#000"/>
<polygon points="450.70,282.88 451.80,284.88 449.60,284.88" fill="#000"/>
<polygon points="443.01,286.94 444.11,288.94 441.91,288.94" fill="#000"/>
<polygon points="435.31,290.80 436.41,292.80 434.21,292.80" fill="#000"/>
<polygon points="427.61,292.42 428.71,294.42 426.51,294.42" fill="#000"/>
<polygon points="419.92,293.31 421.02,295.31 418.82,295.31" fill="#000"/>
<polygon points="412.22,293.83 413.32,295.83 411.12,295.83" fill="#000"/>
<text x="0.6" y="343.9" font-size="12.3" font-weight="bold" textLength="9.2" lengthAdjust="spacingAndGlyphs" stroke="#000" stroke-width="0.15">D</text>
<text x="51.80" y="344.32" font-size="7.2" stroke="#111" stroke-width="0.1" font-weight="bold" fill="#111" textLength="78.20" lengthAdjust="spacingAndGlyphs" >RAMOS IP1 production</text>
<text x="55.60" y="352.42" font-size="7.2" stroke="#111" stroke-width="0.1" font-weight="bold" fill="#111" textLength="69.20" lengthAdjust="spacingAndGlyphs" >-/+ α-IgM stimulation</text>
<line x1="35.60" y1="355.99" x2="35.60" y2="418.30" stroke="#333" stroke-width="0.9" />
<line x1="35.60" y1="418.30" x2="142.50" y2="418.30" stroke="#333" stroke-width="0.9" />
<line x1="32.70" y1="356.29" x2="35.60" y2="356.29" stroke="#333" stroke-width="0.8" />
<text x="30.40" y="358.15" font-size="5.3" stroke="#222" stroke-width="0.3" text-anchor="end" fill="#222" textLength="14.20" lengthAdjust="spacingAndGlyphs" >15,000</text>
<line x1="32.70" y1="376.96" x2="35.60" y2="376.96" stroke="#333" stroke-width="0.8" />
<text x="30.40" y="378.82" font-size="5.3" stroke="#222" stroke-width="0.3" text-anchor="end" fill="#222" textLength="14.20" lengthAdjust="spacingAndGlyphs" >10,000</text>
<line x1="32.70" y1="397.63" x2="35.60" y2="397.63" stroke="#333" stroke-width="0.8" />
<text x="30.40" y="399.49" font-size="5.3" stroke="#222" stroke-width="0.3" text-anchor="end" fill="#222" textLength="11.00" lengthAdjust="spacingAndGlyphs" >5,000</text>
<line x1="32.70" y1="418.30" x2="35.60" y2="418.30" stroke="#333" stroke-width="0.8" />
<text x="30.40" y="420.16" font-size="5.3" stroke="#222" stroke-width="0.3" text-anchor="end" fill="#222" >0</text>
<rect x="43.40" y="411.10" width="17.00" height="7.20" fill="#fff" stroke="#111" stroke-width="1.05"/>
<text x="51.60" y="408.61" font-size="4.6" stroke="#222" stroke-width="0.22" text-anchor="middle" font-weight="bold" fill="#222" >1,742</text>
<line x1="51.90" y1="418.30" x2="51.90" y2="421.10" stroke="#222" stroke-width="0.8" />
<text transform="translate(51.60,423.60) rotate(-45)" font-size="4.8" font-weight="bold" text-anchor="end" fill="#222" stroke="#222" stroke-width="0.1" y="1.6">WT α-IgM</text>
<rect x="68.40" y="407.99" width="16.70" height="10.31" fill="#fff" stroke="#111" stroke-width="1.05"/>
<text x="76.60" y="405.61" font-size="4.6" stroke="#222" stroke-width="0.22" text-anchor="middle" font-weight="bold" fill="#222" >2,495</text>
<line x1="76.75" y1="418.30" x2="76.75" y2="421.10" stroke="#222" stroke-width="0.8" />
<text transform="translate(76.45,423.60) rotate(-45)" font-size="4.8" font-weight="bold" text-anchor="end" fill="#222" stroke="#222" stroke-width="0.1" y="1.6">BTK KO α-IgM</text>
<rect x="93.40" y="369.79" width="16.20" height="48.51" fill="#fff" stroke="#111" stroke-width="1.05"/>
<text x="101.60" y="367.21" font-size="4.6" stroke="#222" stroke-width="0.22" text-anchor="middle" font-weight="bold" fill="#222" >11,734</text>
<line x1="101.50" y1="418.30" x2="101.50" y2="421.10" stroke="#222" stroke-width="0.8" />
<text transform="translate(101.20,423.60) rotate(-45)" font-size="4.8" font-weight="bold" text-anchor="end" fill="#222" stroke="#222" stroke-width="0.1" y="1.6">WT</text>
<rect x="118.30" y="370.88" width="16.10" height="47.42" fill="#fff" stroke="#111" stroke-width="1.05"/>
<text x="126.10" y="368.01" font-size="4.6" stroke="#222" stroke-width="0.22" text-anchor="middle" font-weight="bold" fill="#222" >11,470</text>
<line x1="126.35" y1="418.30" x2="126.35" y2="421.10" stroke="#222" stroke-width="0.8" />
<text transform="translate(126.05,423.60) rotate(-45)" font-size="4.8" font-weight="bold" text-anchor="end" fill="#222" stroke="#222" stroke-width="0.1" y="1.6">BTK KO</text>
<text transform="translate(7.0,386.2) rotate(-90)" font-size="6.2" text-anchor="middle" fill="#222" stroke="#222" stroke-width="0.3" y="2.2" textLength="36" lengthAdjust="spacingAndGlyphs">HTRF Signal</text>
<text x="186.70" y="346.18" font-size="8.8" stroke="#3556a0" stroke-width="0.1" font-weight="bold" fill="#3556a0" textLength="28.90" lengthAdjust="spacingAndGlyphs" >RAMOS</text>
<text x="186.70" y="356.01" font-size="4.6" stroke="#3556a0" stroke-width="0.05" fill="#3556a0" textLength="8.30" lengthAdjust="spacingAndGlyphs" >WT</text>
<text x="199.60" y="356.01" font-size="4.6" stroke="#3556a0" stroke-width="0.05" fill="#3556a0" textLength="16.60" lengthAdjust="spacingAndGlyphs" >BTKKO</text>
<text x="225.30" y="375.11" font-size="8.6" stroke="#3556a0" stroke-width="0.12" fill="#3556a0" textLength="13.90" lengthAdjust="spacingAndGlyphs" >BTK</text>
<text x="163.00" y="375.82" font-size="5.2" stroke="#222" stroke-width="0.15" fill="#222" textLength="8.10" lengthAdjust="spacingAndGlyphs" font-style="italic" >66-</text>
<defs><filter id="bl" x="-50%" y="-50%" width="200%" height="200%"><feGaussianBlur stdDeviation="0.55"/></filter></defs>
<defs><linearGradient id="bg" x1="0" y1="0" x2="0" y2="1"><stop offset="0" stop-color="#9a9a9a"/><stop offset="0.18" stop-color="#222"/><stop offset="0.5" stop-color="#000"/><stop offset="0.85" stop-color="#050505"/><stop offset="1" stop-color="#666"/></linearGradient></defs>
<rect x="186.2" y="367.4" width="13.4" height="11.0" fill="url(#bg)" filter="url(#bl)"/>
<line x1="215.30" y1="368.00" x2="215.30" y2="378.50" stroke="#ddd" stroke-width="0.6" />
<text x="1.2" y="475.4" font-size="12.3" font-weight="bold" textLength="8.4" lengthAdjust="spacingAndGlyphs" stroke="#000" stroke-width="0.15">E</text>
<text x="54.90" y="472.85" font-size="6.4" stroke="#222" stroke-width="0.3" fill="#222" textLength="68.60" lengthAdjust="spacingAndGlyphs" >RAMOS WT IP1 production</text>
<text x="35.10" y="480.95" font-size="6.4" stroke="#222" stroke-width="0.3" fill="#222" textLength="110.30" lengthAdjust="spacingAndGlyphs" >+ anti-IgM stimulation normalized to BTKKO</text>
<line x1="35.40" y1="492.13" x2="35.40" y2="563.49" stroke="#444" stroke-width="0.8" />
<line x1="33.40" y1="492.13" x2="35.40" y2="492.13" stroke="#444" stroke-width="0.8" />
<text x="32.80" y="494.34" font-size="6.3" stroke="#333" stroke-width="0.3" text-anchor="end" fill="#333" >100</text>
<line x1="33.40" y1="515.92" x2="35.40" y2="515.92" stroke="#444" stroke-width="0.8" />
<text x="32.80" y="518.12" font-size="6.3" stroke="#333" stroke-width="0.3" text-anchor="end" fill="#333" >50</text>
<line x1="33.40" y1="539.70" x2="35.40" y2="539.70" stroke="#444" stroke-width="0.8" />
<text x="32.80" y="541.91" font-size="6.3" stroke="#333" stroke-width="0.3" text-anchor="end" fill="#333" >0</text>
<line x1="33.40" y1="563.49" x2="35.40" y2="563.49" stroke="#444" stroke-width="0.8" />
<text x="32.80" y="565.69" font-size="6.3" stroke="#333" stroke-width="0.3" text-anchor="end" fill="#333" >-50</text>
<line x1="35.40" y1="539.70" x2="142.50" y2="539.70" stroke="#444" stroke-width="0.8" />
<line x1="142.50" y1="539.70" x2="142.50" y2="537.20" stroke="#444" stroke-width="0.7" />
<text x="62.55" y="549.40" font-size="6" stroke="#222" stroke-width="0.3" text-anchor="middle" fill="#222" >0.001</text>
<text x="89.05" y="549.40" font-size="6" stroke="#222" stroke-width="0.3" text-anchor="middle" fill="#222" >0.01</text>
<text x="115.55" y="549.40" font-size="6" stroke="#222" stroke-width="0.3" text-anchor="middle" fill="#222" >0.1</text>
<text x="142.05" y="549.40" font-size="6" stroke="#222" stroke-width="0.3" text-anchor="middle" fill="#222" >1</text>
<text x="59.80" y="566.07" font-size="6.2" stroke="#222" stroke-width="0.3" fill="#222" textLength="56.70" lengthAdjust="spacingAndGlyphs" >Concentration (µmol/L)</text>
<text transform="translate(16.3,526.2) rotate(-90)" font-size="6.3" text-anchor="middle" fill="#333" stroke="#333" stroke-width="0.3" y="2.2" textLength="36.4" lengthAdjust="spacingAndGlyphs">% of inhibition</text>
<polyline points="49.00,537.94 50.32,537.69 51.65,537.41 52.97,537.10 54.30,536.74 55.62,536.34 56.95,535.89 58.28,535.39 59.60,534.83 60.93,534.22 62.25,533.53 63.57,532.78 64.90,531.96 66.22,531.07 67.55,530.11 68.88,529.09 70.20,527.99 71.53,526.84 72.85,525.63 74.18,524.37 75.50,523.08 76.82,521.76 78.15,520.43 79.47,519.11 80.80,517.79 82.12,516.50 83.45,515.24 84.78,514.03 86.10,512.88 87.43,511.78 88.75,510.75 90.08,509.79 91.40,508.90 92.72,508.08 94.05,507.34 95.38,506.65 96.70,506.03 98.03,505.48 99.35,504.98 100.67,504.53 102.00,504.13 103.32,503.77 104.65,503.46 105.97,503.18 107.30,502.93 108.62,502.71 109.95,502.52 111.28,502.35 112.60,502.20 113.93,502.07 115.25,501.96 116.57,501.86 117.90,501.77 119.22,501.69 120.55,501.63 121.88,501.57 123.20,501.52 124.53,501.47 125.85,501.43 127.18,501.40 128.50,501.37" fill="none" stroke="#1a1a1a" stroke-width="0.8"/>
<line x1="49.00" y1="536.44" x2="49.00" y2="539.44" stroke="#1a1a1a" stroke-width="0.7" />
<line x1="48.10" y1="536.44" x2="49.90" y2="536.44" stroke="#1a1a1a" stroke-width="0.6" />
<line x1="48.10" y1="539.44" x2="49.90" y2="539.44" stroke="#1a1a1a" stroke-width="0.6" />
<circle cx="49.00" cy="537.94" r="1.2" fill="#1a1a1a"/>
<line x1="62.25" y1="531.53" x2="62.25" y2="535.53" stroke="#1a1a1a" stroke-width="0.7" />
<line x1="61.35" y1="531.53" x2="63.15" y2="531.53" stroke="#1a1a1a" stroke-width="0.6" />
<line x1="61.35" y1="535.53" x2="63.15" y2="535.53" stroke="#1a1a1a" stroke-width="0.6" />
<circle cx="62.25" cy="533.53" r="1.2" fill="#1a1a1a"/>
<line x1="75.50" y1="521.08" x2="75.50" y2="525.08" stroke="#1a1a1a" stroke-width="0.7" />
<line x1="74.60" y1="521.08" x2="76.40" y2="521.08" stroke="#1a1a1a" stroke-width="0.6" />
<line x1="74.60" y1="525.08" x2="76.40" y2="525.08" stroke="#1a1a1a" stroke-width="0.6" />
<circle cx="75.50" cy="523.08" r="1.2" fill="#1a1a1a"/>
<line x1="88.75" y1="505.80" x2="88.75" y2="513.80" stroke="#1a1a1a" stroke-width="0.7" />
<line x1="87.85" y1="505.80" x2="89.65" y2="505.80" stroke="#1a1a1a" stroke-width="0.6" />
<line x1="87.85" y1="513.80" x2="89.65" y2="513.80" stroke="#1a1a1a" stroke-width="0.6" />
<circle cx="88.75" cy="509.80" r="1.2" fill="#1a1a1a"/>
<line x1="102.00" y1="502.13" x2="102.00" y2="506.13" stroke="#1a1a1a" stroke-width="0.7" />
<line x1="101.10" y1="502.13" x2="102.90" y2="502.13" stroke="#1a1a1a" stroke-width="0.6" />
<line x1="101.10" y1="506.13" x2="102.90" y2="506.13" stroke="#1a1a1a" stroke-width="0.6" />
<circle cx="102.00" cy="504.13" r="1.2" fill="#1a1a1a"/>
<line x1="115.25" y1="498.51" x2="115.25" y2="503.51" stroke="#1a1a1a" stroke-width="0.7" />
<line x1="114.35" y1="498.51" x2="116.15" y2="498.51" stroke="#1a1a1a" stroke-width="0.6" />
<line x1="114.35" y1="503.51" x2="116.15" y2="503.51" stroke="#1a1a1a" stroke-width="0.6" />
<circle cx="115.25" cy="501.01" r="1.2" fill="#1a1a1a"/>
<line x1="128.50" y1="499.37" x2="128.50" y2="503.37" stroke="#1a1a1a" stroke-width="0.7" />
<line x1="127.60" y1="499.37" x2="129.40" y2="499.37" stroke="#1a1a1a" stroke-width="0.6" />
<line x1="127.60" y1="503.37" x2="129.40" y2="503.37" stroke="#1a1a1a" stroke-width="0.6" />
<circle cx="128.50" cy="501.37" r="1.2" fill="#1a1a1a"/>
<polyline points="49.00,538.52 50.32,538.35 51.65,538.16 52.97,537.94 54.30,537.70 55.62,537.42 56.95,537.11 58.28,536.76 59.60,536.36 60.93,535.92 62.25,535.43 63.57,534.89 64.90,534.29 66.22,533.64 67.55,532.92 68.88,532.14 70.20,531.30 71.53,530.40 72.85,529.44 74.18,528.42 75.50,527.36 76.82,526.26 78.15,525.13 79.47,523.98 80.80,522.81 82.12,521.65 83.45,520.49 84.78,519.36 86.10,518.26 87.43,517.20 88.75,516.19 90.08,515.23 91.40,514.33 92.72,513.49 94.05,512.71 95.38,511.99 96.70,511.33 98.03,510.73 99.35,510.19 100.67,509.70 102.00,509.26 103.32,508.87 104.65,508.52 105.97,508.21 107.30,507.93 108.62,507.68 109.95,507.47 111.28,507.28 112.60,507.11 113.93,506.96 115.25,506.83 116.57,506.72 117.90,506.62 119.22,506.53 120.55,506.45 121.88,506.39 123.20,506.33 124.53,506.28 125.85,506.23 127.18,506.19 128.50,506.16" fill="none" stroke="#1a1a1a" stroke-width="0.8"/>
<line x1="49.00" y1="537.02" x2="49.00" y2="540.02" stroke="#1a1a1a" stroke-width="0.7" />
<line x1="48.10" y1="537.02" x2="49.90" y2="537.02" stroke="#1a1a1a" stroke-width="0.6" />
<line x1="48.10" y1="540.02" x2="49.90" y2="540.02" stroke="#1a1a1a" stroke-width="0.6" />
<polygon points="49.00,537.02 50.30,538.52 49.00,540.02 47.70,538.52" fill="#1a1a1a"/>
<line x1="62.25" y1="533.43" x2="62.25" y2="537.43" stroke="#1a1a1a" stroke-width="0.7" />
<line x1="61.35" y1="533.43" x2="63.15" y2="533.43" stroke="#1a1a1a" stroke-width="0.6" />
<line x1="61.35" y1="537.43" x2="63.15" y2="537.43" stroke="#1a1a1a" stroke-width="0.6" />
<polygon points="62.25,533.93 63.55,535.43 62.25,536.93 60.95,535.43" fill="#1a1a1a"/>
<line x1="75.50" y1="525.36" x2="75.50" y2="529.36" stroke="#1a1a1a" stroke-width="0.7" />
<line x1="74.60" y1="525.36" x2="76.40" y2="525.36" stroke="#1a1a1a" stroke-width="0.6" />
<line x1="74.60" y1="529.36" x2="76.40" y2="529.36" stroke="#1a1a1a" stroke-width="0.6" />
<polygon points="75.50,525.86 76.80,527.36 75.50,528.86 74.20,527.36" fill="#1a1a1a"/>
<line x1="88.75" y1="513.19" x2="88.75" y2="519.19" stroke="#1a1a1a" stroke-width="0.7" />
<line x1="87.85" y1="513.19" x2="89.65" y2="513.19" stroke="#1a1a1a" stroke-width="0.6" />
<line x1="87.85" y1="519.19" x2="89.65" y2="519.19" stroke="#1a1a1a" stroke-width="0.6" />
<polygon points="88.75,514.69 90.05,516.19 88.75,517.69 87.45,516.19" fill="#1a1a1a"/>
<line x1="102.00" y1="507.26" x2="102.00" y2="511.26" stroke="#1a1a1a" stroke-width="0.7" />
<line x1="101.10" y1="507.26" x2="102.90" y2="507.26" stroke="#1a1a1a" stroke-width="0.6" />
<line x1="101.10" y1="511.26" x2="102.90" y2="511.26" stroke="#1a1a1a" stroke-width="0.6" />
<polygon points="102.00,507.76 103.30,509.26 102.00,510.76 100.70,509.26" fill="#1a1a1a"/>
<line x1="115.25" y1="504.83" x2="115.25" y2="508.83" stroke="#1a1a1a" stroke-width="0.7" />
<line x1="114.35" y1="504.83" x2="116.15" y2="504.83" stroke="#1a1a1a" stroke-width="0.6" />
<line x1="114.35" y1="508.83" x2="116.15" y2="508.83" stroke="#1a1a1a" stroke-width="0.6" />
<polygon points="115.25,505.33 116.55,506.83 115.25,508.33 113.95,506.83" fill="#1a1a1a"/>
<line x1="128.50" y1="504.16" x2="128.50" y2="508.16" stroke="#1a1a1a" stroke-width="0.7" />
<line x1="127.60" y1="504.16" x2="129.40" y2="504.16" stroke="#1a1a1a" stroke-width="0.6" />
<line x1="127.60" y1="508.16" x2="129.40" y2="508.16" stroke="#1a1a1a" stroke-width="0.6" />
<polygon points="128.50,504.66 129.80,506.16 128.50,507.66 127.20,506.16" fill="#1a1a1a"/>
<polyline points="49.00,538.41 50.32,538.26 51.65,538.09 52.97,537.90 54.30,537.70 55.62,537.47 56.95,537.21 58.28,536.94 59.60,536.63 60.93,536.29 62.25,535.92 63.57,535.52 64.90,535.08 66.22,534.60 67.55,534.08 68.88,533.52 70.20,532.92 71.53,532.27 72.85,531.59 74.18,530.85 75.50,530.08 76.82,529.27 78.15,528.42 79.47,527.54 80.80,526.63 82.12,525.70 83.45,524.75 84.78,523.78 86.10,522.81 87.43,521.84 88.75,520.88 90.08,519.92 91.40,518.99 92.72,518.08 94.05,517.20 95.38,516.35 96.70,515.54 98.03,514.77 99.35,514.04 100.67,513.35 102.00,512.71 103.32,512.10 104.65,511.54 105.97,511.02 107.30,510.55 108.62,510.11 109.95,509.70 111.28,509.33 112.60,509.00 113.93,508.69 115.25,508.41 116.57,508.16 117.90,507.93 119.22,507.72 120.55,507.54 121.88,507.37 123.20,507.22 124.53,507.08 125.85,506.96 127.18,506.85 128.50,506.75" fill="none" stroke="#1a1a1a" stroke-width="0.8"/>
<line x1="49.00" y1="536.91" x2="49.00" y2="539.91" stroke="#1a1a1a" stroke-width="0.7" />
<line x1="48.10" y1="536.91" x2="49.90" y2="536.91" stroke="#1a1a1a" stroke-width="0.6" />
<line x1="48.10" y1="539.91" x2="49.90" y2="539.91" stroke="#1a1a1a" stroke-width="0.6" />
<circle cx="49.00" cy="538.41" r="1.2" fill="#fff" stroke="#1a1a1a" stroke-width="0.7"/>
<line x1="62.25" y1="533.92" x2="62.25" y2="537.92" stroke="#1a1a1a" stroke-width="0.7" />
<line x1="61.35" y1="533.92" x2="63.15" y2="533.92" stroke="#1a1a1a" stroke-width="0.6" />
<line x1="61.35" y1="537.92" x2="63.15" y2="537.92" stroke="#1a1a1a" stroke-width="0.6" />
<circle cx="62.25" cy="535.92" r="1.2" fill="#fff" stroke="#1a1a1a" stroke-width="0.7"/>
<line x1="75.50" y1="529.03" x2="75.50" y2="533.03" stroke="#1a1a1a" stroke-width="0.7" />
<line x1="74.60" y1="529.03" x2="76.40" y2="529.03" stroke="#1a1a1a" stroke-width="0.6" />
<line x1="74.60" y1="533.03" x2="76.40" y2="533.03" stroke="#1a1a1a" stroke-width="0.6" />
<circle cx="75.50" cy="531.03" r="1.2" fill="#fff" stroke="#1a1a1a" stroke-width="0.7"/>
<line x1="88.75" y1="517.88" x2="88.75" y2="523.88" stroke="#1a1a1a" stroke-width="0.7" />
<line x1="87.85" y1="517.88" x2="89.65" y2="517.88" stroke="#1a1a1a" stroke-width="0.6" />
<line x1="87.85" y1="523.88" x2="89.65" y2="523.88" stroke="#1a1a1a" stroke-width="0.6" />
<circle cx="88.75" cy="520.88" r="1.2" fill="#fff" stroke="#1a1a1a" stroke-width="0.7"/>
<line x1="102.00" y1="510.71" x2="102.00" y2="514.71" stroke="#1a1a1a" stroke-width="0.7" />
<line x1="101.10" y1="510.71" x2="102.90" y2="510.71" stroke="#1a1a1a" stroke-width="0.6" />
<line x1="101.10" y1="514.71" x2="102.90" y2="514.71" stroke="#1a1a1a" stroke-width="0.6" />
<circle cx="102.00" cy="512.71" r="1.2" fill="#fff" stroke="#1a1a1a" stroke-width="0.7"/>
<line x1="115.25" y1="506.41" x2="115.25" y2="510.41" stroke="#1a1a1a" stroke-width="0.7" />
<line x1="114.35" y1="506.41" x2="116.15" y2="506.41" stroke="#1a1a1a" stroke-width="0.6" />
<line x1="114.35" y1="510.41" x2="116.15" y2="510.41" stroke="#1a1a1a" stroke-width="0.6" />
<circle cx="115.25" cy="508.41" r="1.2" fill="#fff" stroke="#1a1a1a" stroke-width="0.7"/>
<line x1="128.50" y1="504.75" x2="128.50" y2="508.75" stroke="#1a1a1a" stroke-width="0.7" />
<line x1="127.60" y1="504.75" x2="129.40" y2="504.75" stroke="#1a1a1a" stroke-width="0.6" />
<line x1="127.60" y1="508.75" x2="129.40" y2="508.75" stroke="#1a1a1a" stroke-width="0.6" />
<circle cx="128.50" cy="506.75" r="1.2" fill="#fff" stroke="#1a1a1a" stroke-width="0.7"/>
<polyline points="49.00,539.17 50.32,539.12 51.65,539.07 52.97,539.01 54.30,538.94 55.62,538.87 56.95,538.79 58.28,538.71 59.60,538.62 60.93,538.51 62.25,538.40 63.57,538.28 64.90,538.15 66.22,538.01 67.55,537.85 68.88,537.68 70.20,537.50 71.53,537.30 72.85,537.08 74.18,536.85 75.50,536.60 76.82,536.32 78.15,536.02 79.47,535.70 80.80,535.36 82.12,534.99 83.45,534.59 84.78,534.17 86.10,533.71 87.43,533.23 88.75,532.71 90.08,532.16 91.40,531.58 92.72,530.97 94.05,530.32 95.38,529.64 96.70,528.93 98.03,528.19 99.35,527.41 100.67,526.61 102.00,525.78 103.32,524.93 104.65,524.06 105.97,523.17 107.30,522.26 108.62,521.34 109.95,520.41 111.28,519.48 112.60,518.55 113.93,517.63 115.25,516.71 116.57,515.80 117.90,514.91 119.22,514.03 120.55,513.18 121.88,512.35 123.20,511.55 124.53,510.78 125.85,510.04 127.18,509.32 128.50,508.64" fill="none" stroke="#3d8a57" stroke-width="0.8"/>
<line x1="49.00" y1="538.17" x2="49.00" y2="540.17" stroke="#3d8a57" stroke-width="0.7" />
<line x1="48.10" y1="538.17" x2="49.90" y2="538.17" stroke="#3d8a57" stroke-width="0.6" />
<line x1="48.10" y1="540.17" x2="49.90" y2="540.17" stroke="#3d8a57" stroke-width="0.6" />
<circle cx="49.00" cy="539.17" r="1.2" fill="#3d8a57"/>
<line x1="62.25" y1="537.40" x2="62.25" y2="539.40" stroke="#3d8a57" stroke-width="0.7" />
<line x1="61.35" y1="537.40" x2="63.15" y2="537.40" stroke="#3d8a57" stroke-width="0.6" />
<line x1="61.35" y1="539.40" x2="63.15" y2="539.40" stroke="#3d8a57" stroke-width="0.6" />
<circle cx="62.25" cy="538.40" r="1.2" fill="#3d8a57"/>
<line x1="75.50" y1="535.60" x2="75.50" y2="537.60" stroke="#3d8a57" stroke-width="0.7" />
<line x1="74.60" y1="535.60" x2="76.40" y2="535.60" stroke="#3d8a57" stroke-width="0.6" />
<line x1="74.60" y1="537.60" x2="76.40" y2="537.60" stroke="#3d8a57" stroke-width="0.6" />
<circle cx="75.50" cy="536.60" r="1.2" fill="#3d8a57"/>
<line x1="88.75" y1="529.28" x2="88.75" y2="533.28" stroke="#3d8a57" stroke-width="0.7" />
<line x1="87.85" y1="529.28" x2="89.65" y2="529.28" stroke="#3d8a57" stroke-width="0.6" />
<line x1="87.85" y1="533.28" x2="89.65" y2="533.28" stroke="#3d8a57" stroke-width="0.6" />
<circle cx="88.75" cy="531.28" r="1.2" fill="#3d8a57"/>
<line x1="102.00" y1="523.28" x2="102.00" y2="528.28" stroke="#3d8a57" stroke-width="0.7" />
<line x1="101.10" y1="523.28" x2="102.90" y2="523.28" stroke="#3d8a57" stroke-width="0.6" />
<line x1="101.10" y1="528.28" x2="102.90" y2="528.28" stroke="#3d8a57" stroke-width="0.6" />
<circle cx="102.00" cy="525.78" r="1.2" fill="#3d8a57"/>
<line x1="115.25" y1="514.21" x2="115.25" y2="519.21" stroke="#3d8a57" stroke-width="0.7" />
<line x1="114.35" y1="514.21" x2="116.15" y2="514.21" stroke="#3d8a57" stroke-width="0.6" />
<line x1="114.35" y1="519.21" x2="116.15" y2="519.21" stroke="#3d8a57" stroke-width="0.6" />
<circle cx="115.25" cy="516.71" r="1.2" fill="#3d8a57"/>
<line x1="128.50" y1="506.64" x2="128.50" y2="510.64" stroke="#3d8a57" stroke-width="0.7" />
<line x1="127.60" y1="506.64" x2="129.40" y2="506.64" stroke="#3d8a57" stroke-width="0.6" />
<line x1="127.60" y1="510.64" x2="129.40" y2="510.64" stroke="#3d8a57" stroke-width="0.6" />
<circle cx="128.50" cy="508.64" r="1.2" fill="#3d8a57"/>
<polyline points="49.00,537.34 50.32,537.34 51.65,537.34 52.97,537.34 54.30,537.34 55.62,537.35 56.95,537.35 58.28,537.35 59.60,537.36 60.93,537.36 62.25,537.36 63.57,537.37 64.90,537.37 66.22,537.38 67.55,537.39 68.88,537.39 70.20,537.40 71.53,537.41 72.85,537.42 74.18,537.43 75.50,537.44 76.82,537.45 78.15,537.46 79.47,537.47 80.80,537.48 82.12,537.49 83.45,537.51 84.78,537.52 86.10,537.53 87.43,537.55 88.75,537.56 90.08,537.57 91.40,537.59 92.72,537.60 94.05,537.61 95.38,537.63 96.70,537.64 98.03,537.65 99.35,537.66 100.67,537.67 102.00,537.68 103.32,537.69 104.65,537.70 105.97,537.71 107.30,537.72 108.62,537.73 109.95,537.73 111.28,537.74 112.60,537.74 113.93,537.75 115.25,537.75 116.57,537.76 117.90,537.76 119.22,537.77 120.55,537.77 121.88,537.77 123.20,537.77 124.53,537.78 125.85,537.78 127.18,537.78 128.50,537.78" fill="none" stroke="#c0272d" stroke-width="0.8"/>
<line x1="49.00" y1="534.84" x2="49.00" y2="539.84" stroke="#c0272d" stroke-width="0.7" />
<line x1="48.10" y1="534.84" x2="49.90" y2="534.84" stroke="#c0272d" stroke-width="0.6" />
<line x1="48.10" y1="539.84" x2="49.90" y2="539.84" stroke="#c0272d" stroke-width="0.6" />
<circle cx="49.00" cy="537.34" r="1.2" fill="#c0272d"/>
<line x1="62.25" y1="527.96" x2="62.25" y2="542.96" stroke="#c0272d" stroke-width="0.7" />
<line x1="61.35" y1="527.96" x2="63.15" y2="527.96" stroke="#c0272d" stroke-width="0.6" />
<line x1="61.35" y1="542.96" x2="63.15" y2="542.96" stroke="#c0272d" stroke-width="0.6" />
<circle cx="62.25" cy="535.46" r="1.2" fill="#c0272d"/>
<line x1="75.50" y1="534.39" x2="75.50" y2="542.39" stroke="#c0272d" stroke-width="0.7" />
<line x1="74.60" y1="534.39" x2="76.40" y2="534.39" stroke="#c0272d" stroke-width="0.6" />
<line x1="74.60" y1="542.39" x2="76.40" y2="542.39" stroke="#c0272d" stroke-width="0.6" />
<circle cx="75.50" cy="538.39" r="1.2" fill="#c0272d"/>
<line x1="88.75" y1="529.11" x2="88.75" y2="544.11" stroke="#c0272d" stroke-width="0.7" />
<line x1="87.85" y1="529.11" x2="89.65" y2="529.11" stroke="#c0272d" stroke-width="0.6" />
<line x1="87.85" y1="544.11" x2="89.65" y2="544.11" stroke="#c0272d" stroke-width="0.6" />
<circle cx="88.75" cy="536.61" r="1.2" fill="#c0272d"/>
<line x1="102.00" y1="532.73" x2="102.00" y2="540.73" stroke="#c0272d" stroke-width="0.7" />
<line x1="101.10" y1="532.73" x2="102.90" y2="532.73" stroke="#c0272d" stroke-width="0.6" />
<line x1="101.10" y1="540.73" x2="102.90" y2="540.73" stroke="#c0272d" stroke-width="0.6" />
<circle cx="102.00" cy="536.73" r="1.2" fill="#c0272d"/>
<line x1="115.25" y1="534.25" x2="115.25" y2="541.25" stroke="#c0272d" stroke-width="0.7" />
<line x1="114.35" y1="534.25" x2="116.15" y2="534.25" stroke="#c0272d" stroke-width="0.6" />
<line x1="114.35" y1="541.25" x2="116.15" y2="541.25" stroke="#c0272d" stroke-width="0.6" />
<circle cx="115.25" cy="537.75" r="1.2" fill="#c0272d"/>
<line x1="128.50" y1="535.78" x2="128.50" y2="539.78" stroke="#c0272d" stroke-width="0.7" />
<line x1="127.60" y1="535.78" x2="129.40" y2="535.78" stroke="#c0272d" stroke-width="0.6" />
<line x1="127.60" y1="539.78" x2="129.40" y2="539.78" stroke="#c0272d" stroke-width="0.6" />
<circle cx="128.50" cy="537.78" r="1.2" fill="#c0272d"/>
<polyline points="49.00,538.29 50.32,538.29 51.65,538.29 52.97,538.29 54.30,538.30 55.62,538.30 56.95,538.30 58.28,538.30 59.60,538.31 60.93,538.31 62.25,538.32 63.57,538.32 64.90,538.33 66.22,538.33 67.55,538.34 68.88,538.34 70.20,538.35 71.53,538.36 72.85,538.37 74.18,538.38 75.50,538.39 76.82,538.40 78.15,538.41 79.47,538.42 80.80,538.43 82.12,538.44 83.45,538.46 84.78,538.47 86.10,538.48 87.43,538.50 88.75,538.51 90.08,538.52 91.40,538.54 92.72,538.55 94.05,538.56 95.38,538.58 96.70,538.59 98.03,538.60 99.35,538.61 100.67,538.62 102.00,538.63 103.32,538.64 104.65,538.65 105.97,538.66 107.30,538.67 108.62,538.68 109.95,538.68 111.28,538.69 112.60,538.70 113.93,538.70 115.25,538.71 116.57,538.71 117.90,538.71 119.22,538.72 120.55,538.72 121.88,538.72 123.20,538.73 124.53,538.73 125.85,538.73 127.18,538.73 128.50,538.73" fill="none" stroke="#b0313a" stroke-width="0.8"/>
<line x1="49.00" y1="536.29" x2="49.00" y2="540.29" stroke="#b0313a" stroke-width="0.7" />
<line x1="48.10" y1="536.29" x2="49.90" y2="536.29" stroke="#b0313a" stroke-width="0.6" />
<line x1="48.10" y1="540.29" x2="49.90" y2="540.29" stroke="#b0313a" stroke-width="0.6" />
<circle cx="49.00" cy="538.29" r="1.2" fill="#b0313a"/>
<line x1="62.25" y1="534.27" x2="62.25" y2="544.27" stroke="#b0313a" stroke-width="0.7" />
<line x1="61.35" y1="534.27" x2="63.15" y2="534.27" stroke="#b0313a" stroke-width="0.6" />
<line x1="61.35" y1="544.27" x2="63.15" y2="544.27" stroke="#b0313a" stroke-width="0.6" />
<circle cx="62.25" cy="539.27" r="1.2" fill="#b0313a"/>
<line x1="75.50" y1="535.39" x2="75.50" y2="541.39" stroke="#b0313a" stroke-width="0.7" />
<line x1="74.60" y1="535.39" x2="76.40" y2="535.39" stroke="#b0313a" stroke-width="0.6" />
<line x1="74.60" y1="541.39" x2="76.40" y2="541.39" stroke="#b0313a" stroke-width="0.6" />
<circle cx="75.50" cy="538.39" r="1.2" fill="#b0313a"/>
<line x1="88.75" y1="533.04" x2="88.75" y2="543.04" stroke="#b0313a" stroke-width="0.7" />
<line x1="87.85" y1="533.04" x2="89.65" y2="533.04" stroke="#b0313a" stroke-width="0.6" />
<line x1="87.85" y1="543.04" x2="89.65" y2="543.04" stroke="#b0313a" stroke-width="0.6" />
<circle cx="88.75" cy="538.04" r="1.2" fill="#b0313a"/>
<line x1="102.00" y1="535.63" x2="102.00" y2="541.63" stroke="#b0313a" stroke-width="0.7" />
<line x1="101.10" y1="535.63" x2="102.90" y2="535.63" stroke="#b0313a" stroke-width="0.6" />
<line x1="101.10" y1="541.63" x2="102.90" y2="541.63" stroke="#b0313a" stroke-width="0.6" />
<circle cx="102.00" cy="538.63" r="1.2" fill="#b0313a"/>
<line x1="115.25" y1="536.18" x2="115.25" y2="542.18" stroke="#b0313a" stroke-width="0.7" />
<line x1="114.35" y1="536.18" x2="116.15" y2="536.18" stroke="#b0313a" stroke-width="0.6" />
<line x1="114.35" y1="542.18" x2="116.15" y2="542.18" stroke="#b0313a" stroke-width="0.6" />
<circle cx="115.25" cy="539.18" r="1.2" fill="#b0313a"/>
<line x1="128.50" y1="536.73" x2="128.50" y2="540.73" stroke="#b0313a" stroke-width="0.7" />
<line x1="127.60" y1="536.73" x2="129.40" y2="536.73" stroke="#b0313a" stroke-width="0.6" />
<line x1="127.60" y1="540.73" x2="129.40" y2="540.73" stroke="#b0313a" stroke-width="0.6" />
<circle cx="128.50" cy="538.73" r="1.2" fill="#b0313a"/>
<polyline points="49.00,537.80 50.32,537.80 51.65,537.80 52.97,537.80 54.30,537.80 55.62,537.80 56.95,537.80 58.28,537.80 59.60,537.80 60.93,537.80 62.25,537.80 63.57,537.80 64.90,537.80 66.22,537.80 67.55,537.80 68.88,537.80 70.20,537.80 71.53,537.80 72.85,537.80 74.18,537.80 75.50,537.80 76.82,537.80 78.15,537.80 79.47,537.80 80.80,537.80 82.12,537.80 83.45,537.80 84.78,537.80 86.10,537.80 87.43,537.80 88.75,537.80 90.08,537.80 91.40,537.80 92.72,537.80 94.05,537.81 95.38,537.81 96.70,537.81 98.03,537.82 99.35,537.82 100.67,537.83 102.00,537.85 103.32,537.86 104.65,537.88 105.97,537.91 107.30,537.95 108.62,538.00 109.95,538.06 111.28,538.14 112.60,538.25 113.93,538.39 115.25,538.58 116.57,538.80 117.90,539.09 119.22,539.44 120.55,539.85 121.88,540.34 123.20,540.88 124.53,541.47 125.85,542.08 127.18,542.69 128.50,543.28" fill="none" stroke="#c13a45" stroke-width="0.8"/>
<line x1="49.00" y1="534.80" x2="49.00" y2="540.80" stroke="#c13a45" stroke-width="0.7" />
<line x1="48.10" y1="534.80" x2="49.90" y2="534.80" stroke="#c13a45" stroke-width="0.6" />
<line x1="48.10" y1="540.80" x2="49.90" y2="540.80" stroke="#c13a45" stroke-width="0.6" />
<circle cx="49.00" cy="537.80" r="1.2" fill="#c13a45"/>
<line x1="62.25" y1="534.80" x2="62.25" y2="540.80" stroke="#c13a45" stroke-width="0.7" />
<line x1="61.35" y1="534.80" x2="63.15" y2="534.80" stroke="#c13a45" stroke-width="0.6" />
<line x1="61.35" y1="540.80" x2="63.15" y2="540.80" stroke="#c13a45" stroke-width="0.6" />
<circle cx="62.25" cy="537.80" r="1.2" fill="#c13a45"/>
<line x1="75.50" y1="534.80" x2="75.50" y2="540.80" stroke="#c13a45" stroke-width="0.7" />
<line x1="74.60" y1="534.80" x2="76.40" y2="534.80" stroke="#c13a45" stroke-width="0.6" />
<line x1="74.60" y1="540.80" x2="76.40" y2="540.80" stroke="#c13a45" stroke-width="0.6" />
<circle cx="75.50" cy="537.80" r="1.2" fill="#c13a45"/>
<line x1="88.75" y1="534.80" x2="88.75" y2="540.80" stroke="#c13a45" stroke-width="0.7" />
<line x1="87.85" y1="534.80" x2="89.65" y2="534.80" stroke="#c13a45" stroke-width="0.6" />
<line x1="87.85" y1="540.80" x2="89.65" y2="540.80" stroke="#c13a45" stroke-width="0.6" />
<circle cx="88.75" cy="537.80" r="1.2" fill="#c13a45"/>
<line x1="102.00" y1="534.85" x2="102.00" y2="540.85" stroke="#c13a45" stroke-width="0.7" />
<line x1="101.10" y1="534.85" x2="102.90" y2="534.85" stroke="#c13a45" stroke-width="0.6" />
<line x1="101.10" y1="540.85" x2="102.90" y2="540.85" stroke="#c13a45" stroke-width="0.6" />
<circle cx="102.00" cy="537.85" r="1.2" fill="#c13a45"/>
<line x1="115.25" y1="535.58" x2="115.25" y2="541.58" stroke="#c13a45" stroke-width="0.7" />
<line x1="114.35" y1="535.58" x2="116.15" y2="535.58" stroke="#c13a45" stroke-width="0.6" />
<line x1="114.35" y1="541.58" x2="116.15" y2="541.58" stroke="#c13a45" stroke-width="0.6" />
<circle cx="115.25" cy="538.58" r="1.2" fill="#c13a45"/>
<line x1="128.50" y1="541.28" x2="128.50" y2="545.28" stroke="#c13a45" stroke-width="0.7" />
<line x1="127.60" y1="541.28" x2="129.40" y2="541.28" stroke="#c13a45" stroke-width="0.6" />
<line x1="127.60" y1="545.28" x2="129.40" y2="545.28" stroke="#c13a45" stroke-width="0.6" />
<circle cx="128.50" cy="543.28" r="1.2" fill="#c13a45"/>
<polyline points="49.00,539.43 50.32,539.53 51.65,539.65 52.97,539.78 54.30,539.93 55.62,540.10 56.95,540.29 58.28,540.51 59.60,540.75 60.93,541.01 62.25,541.30 63.57,541.62 64.90,541.96 66.22,542.33 67.55,542.72 68.88,543.13 70.20,543.57 71.53,544.01 72.85,544.47 74.18,544.93 75.50,545.39 76.82,545.85 78.15,546.30 79.47,546.73 80.80,547.14 82.12,547.54 83.45,547.91 84.78,548.25 86.10,548.56 87.43,548.85 88.75,549.12 90.08,549.36 91.40,549.57 92.72,549.76 94.05,549.93 95.38,550.08 96.70,550.22 98.03,550.33 99.35,550.44 100.67,550.53 102.00,550.61 103.32,550.67 104.65,550.73 105.97,550.79 107.30,550.83 108.62,550.87 109.95,550.90 111.28,550.93 112.60,550.96 113.93,550.98 115.25,551.00 116.57,551.01 117.90,551.03 119.22,551.04 120.55,551.05 121.88,551.06 123.20,551.07 124.53,551.08 125.85,551.08 127.18,551.09 128.50,551.09" fill="none" stroke="#c8303a" stroke-width="0.8"/>
<line x1="49.00" y1="537.43" x2="49.00" y2="541.43" stroke="#c8303a" stroke-width="0.7" />
<line x1="48.10" y1="537.43" x2="49.90" y2="537.43" stroke="#c8303a" stroke-width="0.6" />
<line x1="48.10" y1="541.43" x2="49.90" y2="541.43" stroke="#c8303a" stroke-width="0.6" />
<circle cx="49.00" cy="539.43" r="1.2" fill="#c8303a"/>
<line x1="62.25" y1="539.30" x2="62.25" y2="543.30" stroke="#c8303a" stroke-width="0.7" />
<line x1="61.35" y1="539.30" x2="63.15" y2="539.30" stroke="#c8303a" stroke-width="0.6" />
<line x1="61.35" y1="543.30" x2="63.15" y2="543.30" stroke="#c8303a" stroke-width="0.6" />
<circle cx="62.25" cy="541.30" r="1.2" fill="#c8303a"/>
<line x1="75.50" y1="543.39" x2="75.50" y2="547.39" stroke="#c8303a" stroke-width="0.7" />
<line x1="74.60" y1="543.39" x2="76.40" y2="543.39" stroke="#c8303a" stroke-width="0.6" />
<line x1="74.60" y1="547.39" x2="76.40" y2="547.39" stroke="#c8303a" stroke-width="0.6" />
<circle cx="75.50" cy="545.39" r="1.2" fill="#c8303a"/>
<line x1="88.75" y1="547.12" x2="88.75" y2="551.12" stroke="#c8303a" stroke-width="0.7" />
<line x1="87.85" y1="547.12" x2="89.65" y2="547.12" stroke="#c8303a" stroke-width="0.6" />
<line x1="87.85" y1="551.12" x2="89.65" y2="551.12" stroke="#c8303a" stroke-width="0.6" />
<circle cx="88.75" cy="549.12" r="1.2" fill="#c8303a"/>
<line x1="102.00" y1="548.61" x2="102.00" y2="552.61" stroke="#c8303a" stroke-width="0.7" />
<line x1="101.10" y1="548.61" x2="102.90" y2="548.61" stroke="#c8303a" stroke-width="0.6" />
<line x1="101.10" y1="552.61" x2="102.90" y2="552.61" stroke="#c8303a" stroke-width="0.6" />
<circle cx="102.00" cy="550.61" r="1.2" fill="#c8303a"/>
<line x1="115.25" y1="549.50" x2="115.25" y2="552.50" stroke="#c8303a" stroke-width="0.7" />
<line x1="114.35" y1="549.50" x2="116.15" y2="549.50" stroke="#c8303a" stroke-width="0.6" />
<line x1="114.35" y1="552.50" x2="116.15" y2="552.50" stroke="#c8303a" stroke-width="0.6" />
<circle cx="115.25" cy="551.00" r="1.2" fill="#c8303a"/>
<line x1="128.50" y1="549.59" x2="128.50" y2="552.59" stroke="#c8303a" stroke-width="0.7" />
<line x1="127.60" y1="549.59" x2="129.40" y2="549.59" stroke="#c8303a" stroke-width="0.6" />
<line x1="127.60" y1="552.59" x2="129.40" y2="552.59" stroke="#c8303a" stroke-width="0.6" />
<circle cx="128.50" cy="551.09" r="1.2" fill="#c8303a"/>
<polyline points="133.1,505.9 138.2,505.9 138.2,546.2 133.1,546.2" fill="none" stroke="#222" stroke-width="0.8"/>
<circle cx="141.60" cy="526.60" r="1.25" fill="#111"/>
<circle cx="145.35" cy="526.60" r="1.25" fill="#111"/>
<circle cx="149.10" cy="526.60" r="1.25" fill="#111"/>
<circle cx="152.85" cy="526.60" r="1.25" fill="#111"/>
<line x1="156.30" y1="503.50" x2="162.70" y2="503.50" stroke="#b8323a" stroke-width="0.7" />
<circle cx="159.50" cy="503.50" r="1.2" fill="#b8323a"/>
<text x="165.25" y="505.60" font-size="6" stroke="#333" stroke-width="0.12" fill="#333" textLength="32.25" lengthAdjust="spacingAndGlyphs" >Compound 3</text>
<line x1="156.30" y1="510.60" x2="162.70" y2="510.60" stroke="#c02a33" stroke-width="0.7" />
<circle cx="159.50" cy="510.60" r="1.2" fill="#c02a33"/>
<text x="165.25" y="512.70" font-size="6" stroke="#333" stroke-width="0.12" fill="#333" textLength="32.25" lengthAdjust="spacingAndGlyphs" >Compound 2</text>
<line x1="156.30" y1="517.25" x2="162.70" y2="517.25" stroke="#a02a35" stroke-width="0.7" />
<circle cx="159.50" cy="517.25" r="1.2" fill="#a02a35"/>
<text x="165.25" y="519.35" font-size="6" stroke="#333" stroke-width="0.12" fill="#333" textLength="25.25" lengthAdjust="spacingAndGlyphs" >ABBV-105</text>
<line x1="156.30" y1="524.40" x2="162.70" y2="524.40" stroke="#c0404a" stroke-width="0.7" />
<circle cx="159.50" cy="524.40" r="1.2" fill="#c0404a"/>
<text x="165.25" y="526.50" font-size="6" stroke="#333" stroke-width="0.12" fill="#333" textLength="32.25" lengthAdjust="spacingAndGlyphs" >Compound 1</text>
<line x1="156.30" y1="531.00" x2="162.70" y2="531.00" stroke="#111" stroke-width="0.7" />
<circle cx="159.50" cy="531.00" r="1.2" fill="#111"/>
<text x="165.25" y="533.10" font-size="6" stroke="#333" stroke-width="0.12" fill="#333" textLength="21.75" lengthAdjust="spacingAndGlyphs" >Ibrutinib</text>
<line x1="156.30" y1="537.90" x2="162.70" y2="537.90" stroke="#111" stroke-width="0.7" />
<circle cx="159.5" cy="537.90" r="1.2" fill="#fff" stroke="#111" stroke-width="0.7"/>
<text x="165.25" y="540.00" font-size="6" stroke="#333" stroke-width="0.12" fill="#333" textLength="33.25" lengthAdjust="spacingAndGlyphs" >Acalabrutinib</text>
<line x1="156.30" y1="544.75" x2="162.70" y2="544.75" stroke="#111" stroke-width="0.7" />
<polygon points="159.5,543.35 160.8,544.75 159.5,546.15 158.2,544.75" fill="#111"/>
<text x="165.25" y="546.85" font-size="6" stroke="#333" stroke-width="0.12" fill="#333" textLength="31.75" lengthAdjust="spacingAndGlyphs" >Zanubrutinib</text>
<line x1="156.30" y1="551.25" x2="162.70" y2="551.25" stroke="#2f7a55" stroke-width="0.7" />
<circle cx="159.50" cy="551.25" r="1.2" fill="#2f7a55"/>
<text x="165.25" y="553.35" font-size="6" stroke="#333" stroke-width="0.12" fill="#333" textLength="25.75" lengthAdjust="spacingAndGlyphs" >GDC-0853</text>
<line x1="218.70" y1="481.40" x2="333.60" y2="481.40" stroke="#5f7b9e" stroke-width="1.1" />
<line x1="218.70" y1="501.90" x2="333.60" y2="501.90" stroke="#5f7b9e" stroke-width="1.5" />
<line x1="218.70" y1="509.30" x2="333.60" y2="509.30" stroke="#5f7b9e" stroke-width="1.1" />
<line x1="218.70" y1="516.70" x2="333.60" y2="516.70" stroke="#5f7b9e" stroke-width="1.1" />
<line x1="218.70" y1="524.10" x2="333.60" y2="524.10" stroke="#5f7b9e" stroke-width="1.1" />
<line x1="218.70" y1="531.50" x2="333.60" y2="531.50" stroke="#5f7b9e" stroke-width="1.1" />
<line x1="218.70" y1="538.80" x2="333.60" y2="538.80" stroke="#5f7b9e" stroke-width="1.1" />
<line x1="218.70" y1="546.20" x2="333.60" y2="546.20" stroke="#5f7b9e" stroke-width="1.1" />
<line x1="218.70" y1="553.50" x2="333.60" y2="553.50" stroke="#5f7b9e" stroke-width="1.1" />
<line x1="218.70" y1="560.90" x2="333.60" y2="560.90" stroke="#5f7b9e" stroke-width="1.1" />
<line x1="219.20" y1="481.40" x2="219.20" y2="560.90" stroke="#5f7b9e" stroke-width="1.1" />
<line x1="264.80" y1="481.40" x2="264.80" y2="560.90" stroke="#5f7b9e" stroke-width="1.1" />
<line x1="299.50" y1="481.40" x2="299.50" y2="560.90" stroke="#5f7b9e" stroke-width="1.1" />
<line x1="333.10" y1="481.40" x2="333.10" y2="560.90" stroke="#5f7b9e" stroke-width="1.1" />
<text x="221.80" y="494.34" font-size="6.4" stroke="#111" stroke-width="0.1" font-weight="bold" fill="#111" textLength="30.10" lengthAdjust="spacingAndGlyphs" >Compound</text>
<text x="282" y="490.50" font-size="6" font-weight="bold" text-anchor="middle" fill="#111" stroke="#111" stroke-width="0.1">IC<tspan font-size="3.6" dy="1.3">50</tspan></text>
<text x="282.00" y="498.30" font-size="6" stroke="#111" stroke-width="0.1" text-anchor="middle" font-weight="bold" fill="#111" >(nmol/L)</text>
<text x="316.30" y="490.50" font-size="6" stroke="#111" stroke-width="0.1" text-anchor="middle" font-weight="bold" fill="#111" >Binding</text>
<text x="316.30" y="498.30" font-size="6" stroke="#111" stroke-width="0.1" text-anchor="middle" font-weight="bold" fill="#111" >mode</text>
<text x="221.80" y="507.49" font-size="5.4" stroke="#222" stroke-width="0.1" fill="#222" >Ibrutinib</text>
<text x="282.00" y="507.49" font-size="5.4" stroke="#222" stroke-width="0.1" text-anchor="middle" fill="#222" >1.72</text>
<text x="316.30" y="507.49" font-size="5.4" stroke="#222" stroke-width="0.1" text-anchor="middle" fill="#222" >Back pocket</text>
<text x="221.80" y="514.89" font-size="5.4" stroke="#222" stroke-width="0.1" fill="#222" >Acalabrutinib</text>
<text x="282.00" y="514.89" font-size="5.4" stroke="#222" stroke-width="0.1" text-anchor="middle" fill="#222" >7.24</text>
<text x="316.30" y="514.89" font-size="5.4" stroke="#222" stroke-width="0.1" text-anchor="middle" fill="#222" >Back pocket</text>
<text x="221.80" y="522.29" font-size="5.4" stroke="#222" stroke-width="0.1" fill="#222" >Zanubrutinib</text>
<text x="282.00" y="522.29" font-size="5.4" stroke="#222" stroke-width="0.1" text-anchor="middle" fill="#222" >4.15</text>
<text x="316.30" y="522.29" font-size="5.4" stroke="#222" stroke-width="0.1" text-anchor="middle" fill="#222" >Back pocket</text>
<text x="221.80" y="529.69" font-size="5.4" stroke="#222" stroke-width="0.1" fill="#222" >GDC-0853</text>
<text x="282.00" y="529.69" font-size="5.4" stroke="#222" stroke-width="0.1" text-anchor="middle" fill="#222" >110.9</text>
<text x="316.30" y="529.69" font-size="5.4" stroke="#222" stroke-width="0.1" text-anchor="middle" fill="#222" >H3 pocket</text>
<text x="221.80" y="537.04" font-size="5.4" stroke="#222" stroke-width="0.1" fill="#222" >Compound 3</text>
<text x="282.00" y="537.04" font-size="5.4" stroke="#d0282e" stroke-width="0.1" text-anchor="middle" fill="#d0282e" >&gt;1,000</text>
<text x="316.30" y="537.04" font-size="5.4" stroke="#222" stroke-width="0.1" text-anchor="middle" fill="#222" >Hinge only</text>
<text x="221.80" y="544.39" font-size="5.4" stroke="#222" stroke-width="0.1" fill="#222" >Compound 2</text>
<text x="282.00" y="544.39" font-size="5.4" stroke="#d0282e" stroke-width="0.1" text-anchor="middle" fill="#d0282e" >&gt;1,000</text>
<text x="316.30" y="544.39" font-size="5.4" stroke="#222" stroke-width="0.1" text-anchor="middle" fill="#222" >Hinge only</text>
<text x="221.80" y="551.74" font-size="5.4" stroke="#222" stroke-width="0.1" fill="#222" >Compound 1</text>
<text x="282.00" y="551.74" font-size="5.4" stroke="#d0282e" stroke-width="0.1" text-anchor="middle" fill="#d0282e" >&gt;1,000</text>
<text x="316.30" y="551.74" font-size="5.4" stroke="#222" stroke-width="0.1" text-anchor="middle" fill="#222" >Hinge only</text>
<text x="221.80" y="559.09" font-size="5.4" stroke="#222" stroke-width="0.1" fill="#222" >ABBV-105</text>
<text x="282.00" y="559.09" font-size="5.4" stroke="#d0282e" stroke-width="0.1" text-anchor="middle" fill="#d0282e" >&gt;1,000</text>
<text x="316.30" y="559.09" font-size="5.4" stroke="#222" stroke-width="0.1" text-anchor="middle" fill="#222" >Hinge only</text>
</svg>
</body></html>
